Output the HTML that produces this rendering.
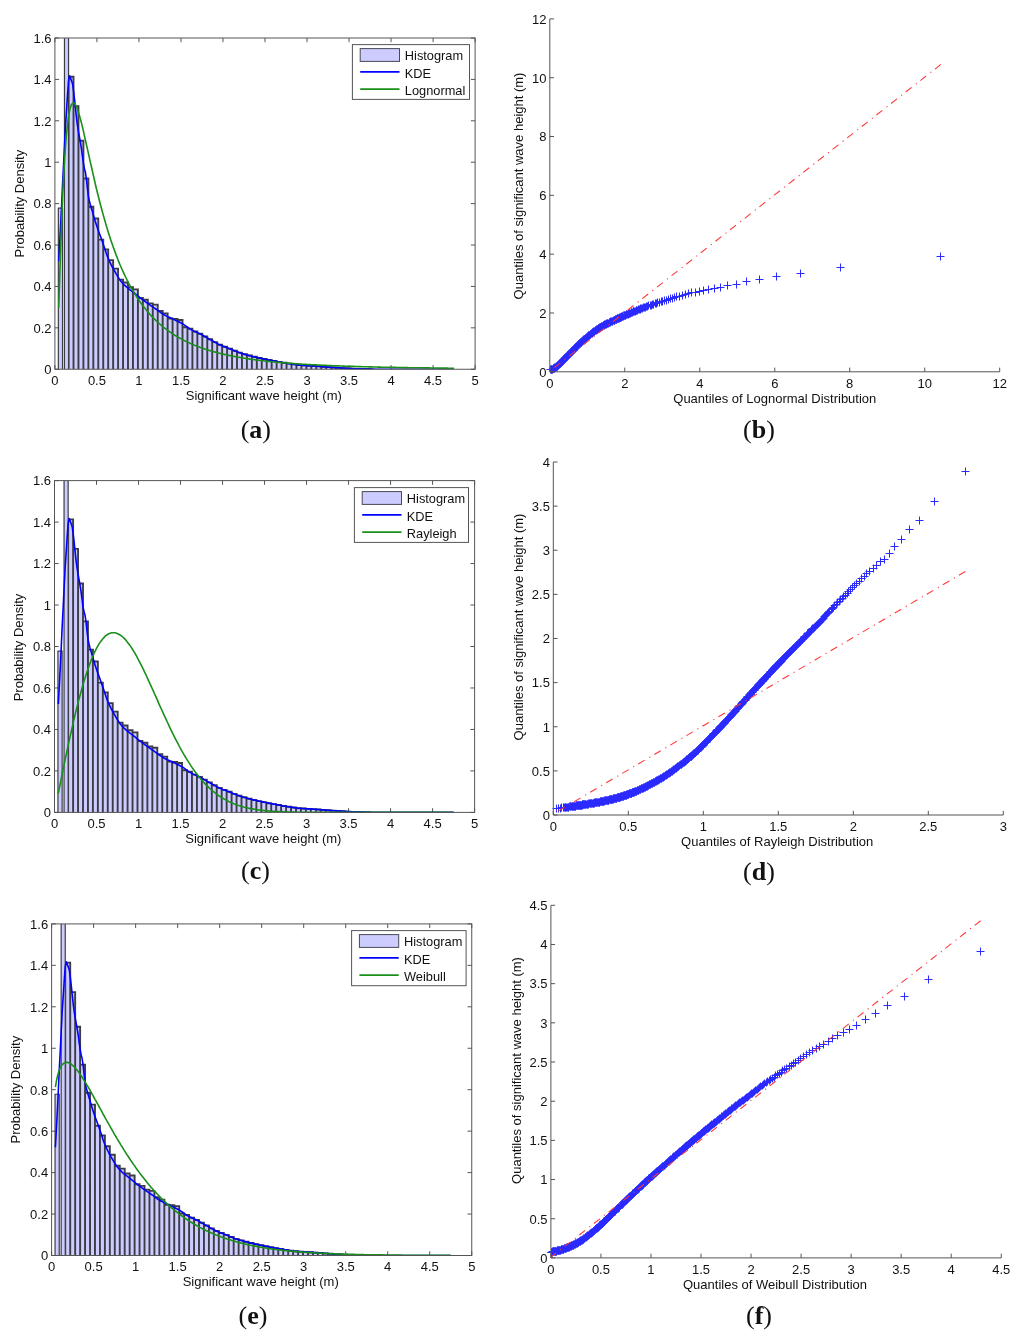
<!DOCTYPE html>
<html><head><meta charset="utf-8"><title>Figure</title>
<style>html,body{margin:0;padding:0;background:#fff;}body{width:1024px;height:1335px;overflow:hidden;}svg{display:block;}</style>
</head><body>
<svg width="1024" height="1335" viewBox="0 0 1024 1335" font-family="&apos;Liberation Sans&apos;, Arial, Helvetica, sans-serif" font-size="13" fill="#111">
<rect width="1024" height="1335" fill="#fff"/>
<path d="M54.90 369.25v-4.2M54.90 38.00v4.2M96.92 369.25v-4.2M96.92 38.00v4.2M138.94 369.25v-4.2M138.94 38.00v4.2M180.96 369.25v-4.2M180.96 38.00v4.2M222.98 369.25v-4.2M222.98 38.00v4.2M265.00 369.25v-4.2M265.00 38.00v4.2M307.02 369.25v-4.2M307.02 38.00v4.2M349.04 369.25v-4.2M349.04 38.00v4.2M391.06 369.25v-4.2M391.06 38.00v4.2M433.08 369.25v-4.2M433.08 38.00v4.2M475.10 369.25v-4.2M475.10 38.00v4.2M54.90 369.25h4.2M475.10 369.25h-4.2M54.90 327.84h4.2M475.10 327.84h-4.2M54.90 286.44h4.2M475.10 286.44h-4.2M54.90 245.03h4.2M475.10 245.03h-4.2M54.90 203.62h4.2M475.10 203.62h-4.2M54.90 162.22h4.2M475.10 162.22h-4.2M54.90 120.81h4.2M475.10 120.81h-4.2M54.90 79.41h4.2M475.10 79.41h-4.2M54.90 38.00h4.2M475.10 38.00h-4.2" stroke="#555" stroke-width="1" fill="none"/>
<clipPath id="c369"><rect x="54.90" y="38.00" width="420.20" height="331.25"/></clipPath>
<g clip-path="url(#c369)">
<path d="M68.55 369.25V76.71H73.51V369.25M73.51 369.25V106.11H78.46V369.25M78.46 369.25V140.69H83.41V369.25M83.41 369.25V178.57H88.37V369.25M88.37 369.25V206.73H93.32V369.25M93.32 369.25V218.53H98.28V369.25M98.28 369.25V239.65H103.23V369.25M103.23 369.25V249.38H108.19V369.25M108.19 369.25V260.14H113.14V369.25M113.14 369.25V268.63H118.09V369.25M118.09 369.25V279.61H123.05V369.25M123.05 369.25V282.50H128.00V369.25M128.00 369.25V287.27H132.96V369.25M132.96 369.25V289.34H137.91V369.25M137.91 369.25V298.03H142.86V369.25M142.86 369.25V299.69H147.82V369.25M147.82 369.25V303.41H152.77V369.25M152.77 369.25V304.66H157.73V369.25M157.73 369.25V311.07H162.68V369.25M162.68 369.25V313.56H167.64V369.25M167.64 369.25V318.53H172.59V369.25M172.59 369.25V318.94H177.54V369.25M177.54 369.25V319.98H182.50V369.25M182.50 369.25V327.22H187.45V369.25M187.45 369.25V328.67H192.41V369.25M192.41 369.25V331.53H197.36V369.25M197.36 369.25V333.82H202.31V369.25M202.31 369.25V336.52H207.27V369.25M207.27 369.25V339.32H212.22V369.25M212.22 369.25V342.15H217.18V369.25M217.18 369.25V344.76H222.13V369.25M222.13 369.25V346.79H227.09V369.25M227.09 369.25V348.67H232.04V369.25M232.04 369.25V350.73H236.99V369.25M236.99 369.25V352.65H241.95V369.25M241.95 369.25V354.19H246.90V369.25M246.90 369.25V355.55H251.86V369.25M251.86 369.25V356.80H256.81V369.25M256.81 369.25V357.96H261.76V369.25M261.76 369.25V359.04H266.72V369.25M266.72 369.25V360.05H271.67V369.25M271.67 369.25V361.01H276.63V369.25M276.63 369.25V361.91H281.58V369.25M281.58 369.25V362.79H286.54V369.25M286.54 369.25V363.60H291.49V369.25M291.49 369.25V364.40H296.44V369.25M296.44 369.25V365.06H301.40V369.25M301.40 369.25V365.41H306.35V369.25M306.35 369.25V365.69H311.31V369.25M311.31 369.25V366.00H316.26V369.25M316.26 369.25V366.35H321.21V369.25M321.21 369.25V366.75H326.17V369.25M326.17 369.25V367.16H331.12V369.25M331.12 369.25V367.51H336.08V369.25M336.08 369.25V367.83H341.03V369.25M341.03 369.25V368.15H345.99V369.25M345.99 369.25V368.44H350.94V369.25M350.94 369.25V368.68H355.89V369.25M355.89 369.25V368.86H360.85V369.25M360.85 369.25V368.98H365.80V369.25M365.80 369.25V369.07H370.76V369.25" fill="#ccccff" stroke="#3c3c44" stroke-width="1.9"/>
<path d="M58.35 369.25V208.18H62.53V369.25M64.46 369.25V17.30H68.55V369.25" fill="#ccccff" stroke="#3c3c44" stroke-width="1.2"/>
<polyline fill="none" stroke="#0000ff" stroke-width="1.6" stroke-linejoin="round" points="58.7,261.1 59.7,242.9 60.7,223.8 61.7,203.3 62.6,183.2 63.6,164.0 64.6,143.2 65.6,123.8 66.6,109.3 67.6,93.8 68.6,80.2 69.6,75.8 70.6,78.5 71.6,81.1 72.6,84.1 73.5,90.5 74.5,99.1 75.5,108.6 76.5,118.1 77.5,125.7 78.5,131.8 79.5,137.3 80.5,142.8 81.5,149.2 82.5,156.9 83.5,164.0 84.4,168.6 85.4,172.3 86.4,178.8 87.4,188.4 88.4,196.3 89.4,201.1 90.4,205.0 91.4,208.4 92.4,211.6 93.4,215.0 94.4,218.3 95.3,221.5 96.3,224.6 97.3,227.6 98.3,230.4 99.3,233.2 100.3,235.9 101.3,238.6 102.3,241.5 103.3,244.4 104.3,247.2 105.3,250.2 106.2,253.1 107.2,255.9 108.2,258.4 109.2,260.7 110.2,262.8 111.2,264.9 112.2,266.8 113.2,268.7 114.2,270.5 115.2,272.2 116.2,273.9 117.2,275.5 118.1,277.1 119.1,278.6 120.1,280.1 121.1,281.4 122.1,282.6 123.1,283.7 124.1,284.8 125.1,285.7 126.1,286.6 127.1,287.4 128.1,288.2 129.0,289.0 130.0,289.8 131.0,290.5 132.0,291.3 133.0,292.0 134.0,292.8 135.0,293.6 136.0,294.4 137.0,295.2 138.0,296.0 139.0,296.8 139.9,297.6 140.9,298.4 141.9,299.2 142.9,299.9 143.9,300.7 144.9,301.4 145.9,302.1 146.9,302.8 147.9,303.5 148.9,304.2 149.9,304.9 150.8,305.6 151.8,306.2 152.8,306.9 153.8,307.6 154.8,308.3 155.8,309.0 156.8,309.7 157.8,310.5 158.8,311.2 159.8,311.9 160.8,312.6 161.7,313.3 162.7,313.9 163.7,314.5 164.7,315.1 165.7,315.6 166.7,316.1 167.7,316.6 168.7,317.1 169.7,317.5 170.7,318.0 171.7,318.4 172.6,318.9 173.6,319.4 174.6,319.9 175.6,320.4 176.6,320.8 177.6,321.3 178.6,321.8 179.6,322.3 180.6,322.8 181.6,323.3 182.6,323.8 183.5,324.4 184.5,325.1 185.5,325.8 186.5,326.5 187.5,327.3 188.5,328.0 189.5,328.7 190.5,329.3 191.5,329.9 192.5,330.4 193.5,330.9 194.4,331.3 195.4,331.8 196.4,332.2 197.4,332.7 198.4,333.1 199.4,333.6 200.4,334.1 201.4,334.6 202.4,335.2 203.4,335.7 204.4,336.3 205.3,336.8 206.3,337.4 207.3,338.0 208.3,338.5 209.3,339.1 210.3,339.6 211.3,340.2 212.3,340.8 213.3,341.3 214.3,341.9 215.3,342.5 216.3,343.0 217.2,343.6 218.2,344.1 219.2,344.6 220.2,345.0 221.2,345.4 222.2,345.9 223.2,346.2 224.2,346.6 225.2,347.0 226.2,347.4 227.2,347.7 228.1,348.1 229.1,348.5 230.1,348.9 231.1,349.3 232.1,349.7 233.1,350.1 234.1,350.6 235.1,351.0 236.1,351.4 237.1,351.8 238.1,352.1 239.0,352.5 240.0,352.8 241.0,353.2 242.0,353.5 243.0,353.8 244.0,354.1 245.0,354.4 246.0,354.6 247.0,354.9 248.0,355.2 249.0,355.4 249.9,355.7 250.9,356.0 251.9,356.2 252.9,356.5 253.9,356.7 254.9,356.9 255.9,357.2 256.9,357.4 257.9,357.6 258.9,357.9 259.9,358.1 260.8,358.3 261.8,358.5 262.8,358.7 263.8,358.9 264.8,359.2 265.8,359.4 266.8,359.6 267.8,359.8 268.8,360.0 269.8,360.2 270.8,360.4 271.7,360.5 272.7,360.7 273.7,360.9 274.7,361.1 275.7,361.3 276.7,361.5 277.7,361.7 278.7,361.8 279.7,362.0 280.7,362.2 281.7,362.4 282.6,362.5 283.6,362.7 284.6,362.9 285.6,363.1 286.6,363.2 287.6,363.4 288.6,363.5 289.6,363.7 290.6,363.9 291.6,364.0 292.6,364.2 293.5,364.3 294.5,364.5 295.5,364.6 296.5,364.8 297.5,364.9 298.5,365.0 299.5,365.1 300.5,365.2 301.5,365.3 302.5,365.3 303.5,365.4 304.4,365.4 305.4,365.5 306.4,365.6 307.4,365.6 308.4,365.7 309.4,365.7 310.4,365.8 311.4,365.8 312.4,365.9 313.4,366.0 314.4,366.0 315.4,366.1 316.3,366.2 317.3,366.2 318.3,366.3 319.3,366.4 320.3,366.5 321.3,366.5 322.3,366.6 323.3,366.7 324.3,366.8 325.3,366.9 326.3,367.0 327.2,367.1 328.2,367.1 329.2,367.2 330.2,367.3 331.2,367.3 332.2,367.4 333.2,367.5 334.2,367.5 335.2,367.6 336.2,367.7 337.2,367.7 338.1,367.8 339.1,367.9 340.1,367.9 341.1,368.0 342.1,368.1 343.1,368.1 344.1,368.2 345.1,368.2 346.1,368.3 347.1,368.4 348.1,368.4 349.0,368.5 350.0,368.5 351.0,368.6 352.0,368.6 353.0,368.7 354.0,368.7 355.0,368.8 356.0,368.8 357.0,368.8 358.0,368.8 359.0,368.9 359.9,368.9 360.9,368.9 361.9,368.9 362.9,369.0 363.9,369.0 364.9,369.0 365.9,369.0 366.9,369.0 367.9,369.1 368.9,369.1 369.9,369.1 370.8,369.1 371.8,369.1 372.8,369.1 373.8,369.1 374.8,369.2 375.8,369.2 376.8,369.2 377.8,369.2 378.8,369.2 379.8,369.2 380.8,369.2 381.7,369.2 382.7,369.2 383.7,369.2 384.7,369.2 385.7,369.2 386.7,369.2 387.7,369.2 388.7,369.2 389.7,369.2 390.7,369.2 391.7,369.2 392.6,369.2 393.6,369.2 394.6,369.2 395.6,369.2 396.6,369.2 397.6,369.2 398.6,369.2 399.6,369.2 400.6,369.2 401.6,369.2 402.6,369.2 403.5,369.2 404.5,369.2 405.5,369.2 406.5,369.2 407.5,369.2 408.5,369.2 409.5,369.2 410.5,369.2 411.5,369.2 412.5,369.2 413.5,369.2 414.5,369.2 415.4,369.2 416.4,369.2 417.4,369.2 418.4,369.2 419.4,369.2 420.4,369.2 421.4,369.2 422.4,369.2 423.4,369.2 424.4,369.2 425.4,369.2 426.3,369.2 427.3,369.2 428.3,369.2 429.3,369.2 430.3,369.2 431.3,369.2 432.3,369.2 433.3,369.2 434.3,369.2 435.3,369.2 436.3,369.2 437.2,369.2 438.2,369.2 439.2,369.2 440.2,369.2 441.2,369.2 442.2,369.2 443.2,369.2 444.2,369.2 445.2,369.2 446.2,369.2 447.2,369.2 448.1,369.2 449.1,369.2 450.1,369.2 451.1,369.2 452.1,369.2 453.1,369.2 454.1,369.2"/>
<polyline fill="none" stroke="#1a8f1a" stroke-width="1.6" stroke-linejoin="round" points="58.7,307.8 59.7,277.6 60.7,248.3 61.7,221.3 62.6,197.5 63.6,176.8 64.6,159.3 65.6,144.8 66.6,132.9 67.6,123.5 68.6,116.2 69.6,110.7 70.6,106.9 71.6,104.4 72.6,103.2 73.5,102.9 74.5,103.5 75.5,104.9 76.5,106.9 77.5,109.4 78.5,112.4 79.5,115.7 80.5,119.3 81.5,123.1 82.5,127.2 83.5,131.4 84.4,135.7 85.4,140.0 86.4,144.5 87.4,148.9 88.4,153.4 89.4,157.9 90.4,162.4 91.4,166.8 92.4,171.2 93.4,175.5 94.4,179.8 95.3,184.0 96.3,188.2 97.3,192.2 98.3,196.2 99.3,200.2 100.3,204.0 101.3,207.8 102.3,211.5 103.3,215.1 104.3,218.7 105.3,222.1 106.2,225.5 107.2,228.8 108.2,232.0 109.2,235.1 110.2,238.2 111.2,241.2 112.2,244.1 113.2,246.9 114.2,249.7 115.2,252.4 116.2,255.1 117.2,257.6 118.1,260.1 119.1,262.6 120.1,265.0 121.1,267.3 122.1,269.5 123.1,271.7 124.1,273.9 125.1,276.0 126.1,278.0 127.1,280.0 128.1,281.9 129.0,283.8 130.0,285.7 131.0,287.5 132.0,289.2 133.0,290.9 134.0,292.6 135.0,294.2 136.0,295.8 137.0,297.3 138.0,298.8 139.0,300.3 139.9,301.7 140.9,303.1 141.9,304.5 142.9,305.8 143.9,307.1 144.9,308.3 145.9,309.6 146.9,310.8 147.9,311.9 148.9,313.1 149.9,314.2 150.8,315.3 151.8,316.4 152.8,317.4 153.8,318.4 154.8,319.4 155.8,320.4 156.8,321.3 157.8,322.2 158.8,323.2 159.8,324.0 160.8,324.9 161.7,325.7 162.7,326.6 163.7,327.4 164.7,328.1 165.7,328.9 166.7,329.7 167.7,330.4 168.7,331.1 169.7,331.8 170.7,332.5 171.7,333.2 172.6,333.8 173.6,334.5 174.6,335.1 175.6,335.7 176.6,336.3 177.6,336.9 178.6,337.5 179.6,338.0 180.6,338.6 181.6,339.1 182.6,339.6 183.5,340.2 184.5,340.7 185.5,341.2 186.5,341.6 187.5,342.1 188.5,342.6 189.5,343.0 190.5,343.5 191.5,343.9 192.5,344.3 193.5,344.8 194.4,345.2 195.4,345.6 196.4,346.0 197.4,346.4 198.4,346.7 199.4,347.1 200.4,347.5 201.4,347.8 202.4,348.2 203.4,348.5 204.4,348.8 205.3,349.2 206.3,349.5 207.3,349.8 208.3,350.1 209.3,350.4 210.3,350.7 211.3,351.0 212.3,351.3 213.3,351.6 214.3,351.9 215.3,352.1 216.3,352.4 217.2,352.7 218.2,352.9 219.2,353.2 220.2,353.4 221.2,353.7 222.2,353.9 223.2,354.1 224.2,354.4 225.2,354.6 226.2,354.8 227.2,355.0 228.1,355.2 229.1,355.4 230.1,355.6 231.1,355.8 232.1,356.0 233.1,356.2 234.1,356.4 235.1,356.6 236.1,356.8 237.1,357.0 238.1,357.2 239.0,357.3 240.0,357.5 241.0,357.7 242.0,357.8 243.0,358.0 244.0,358.2 245.0,358.3 246.0,358.5 247.0,358.6 248.0,358.8 249.0,358.9 249.9,359.1 250.9,359.2 251.9,359.3 252.9,359.5 253.9,359.6 254.9,359.7 255.9,359.9 256.9,360.0 257.9,360.1 258.9,360.3 259.9,360.4 260.8,360.5 261.8,360.6 262.8,360.7 263.8,360.8 264.8,361.0 265.8,361.1 266.8,361.2 267.8,361.3 268.8,361.4 269.8,361.5 270.8,361.6 271.7,361.7 272.7,361.8 273.7,361.9 274.7,362.0 275.7,362.1 276.7,362.2 277.7,362.3 278.7,362.4 279.7,362.4 280.7,362.5 281.7,362.6 282.6,362.7 283.6,362.8 284.6,362.9 285.6,363.0 286.6,363.0 287.6,363.1 288.6,363.2 289.6,363.3 290.6,363.3 291.6,363.4 292.6,363.5 293.5,363.6 294.5,363.6 295.5,363.7 296.5,363.8 297.5,363.8 298.5,363.9 299.5,364.0 300.5,364.0 301.5,364.1 302.5,364.2 303.5,364.2 304.4,364.3 305.4,364.3 306.4,364.4 307.4,364.5 308.4,364.5 309.4,364.6 310.4,364.6 311.4,364.7 312.4,364.7 313.4,364.8 314.4,364.8 315.4,364.9 316.3,364.9 317.3,365.0 318.3,365.0 319.3,365.1 320.3,365.1 321.3,365.2 322.3,365.2 323.3,365.3 324.3,365.3 325.3,365.4 326.3,365.4 327.2,365.5 328.2,365.5 329.2,365.5 330.2,365.6 331.2,365.6 332.2,365.7 333.2,365.7 334.2,365.7 335.2,365.8 336.2,365.8 337.2,365.9 338.1,365.9 339.1,365.9 340.1,366.0 341.1,366.0 342.1,366.0 343.1,366.1 344.1,366.1 345.1,366.2 346.1,366.2 347.1,366.2 348.1,366.3 349.0,366.3 350.0,366.3 351.0,366.4 352.0,366.4 353.0,366.4 354.0,366.4 355.0,366.5 356.0,366.5 357.0,366.5 358.0,366.6 359.0,366.6 359.9,366.6 360.9,366.6 361.9,366.7 362.9,366.7 363.9,366.7 364.9,366.8 365.9,366.8 366.9,366.8 367.9,366.8 368.9,366.9 369.9,366.9 370.8,366.9 371.8,366.9 372.8,367.0 373.8,367.0 374.8,367.0 375.8,367.0 376.8,367.0 377.8,367.1 378.8,367.1 379.8,367.1 380.8,367.1 381.7,367.2 382.7,367.2 383.7,367.2 384.7,367.2 385.7,367.2 386.7,367.3 387.7,367.3 388.7,367.3 389.7,367.3 390.7,367.3 391.7,367.4 392.6,367.4 393.6,367.4 394.6,367.4 395.6,367.4 396.6,367.5 397.6,367.5 398.6,367.5 399.6,367.5 400.6,367.5 401.6,367.5 402.6,367.6 403.5,367.6 404.5,367.6 405.5,367.6 406.5,367.6 407.5,367.6 408.5,367.7 409.5,367.7 410.5,367.7 411.5,367.7 412.5,367.7 413.5,367.7 414.5,367.7 415.4,367.8 416.4,367.8 417.4,367.8 418.4,367.8 419.4,367.8 420.4,367.8 421.4,367.8 422.4,367.9 423.4,367.9 424.4,367.9 425.4,367.9 426.3,367.9 427.3,367.9 428.3,367.9 429.3,367.9 430.3,368.0 431.3,368.0 432.3,368.0 433.3,368.0 434.3,368.0 435.3,368.0 436.3,368.0 437.2,368.0 438.2,368.0 439.2,368.1 440.2,368.1 441.2,368.1 442.2,368.1 443.2,368.1 444.2,368.1 445.2,368.1 446.2,368.1 447.2,368.1 448.1,368.2 449.1,368.2 450.1,368.2 451.1,368.2 452.1,368.2 453.1,368.2 454.1,368.2"/>
</g>
<rect x="54.90" y="38.00" width="420.20" height="331.25" fill="none" stroke="#555" stroke-width="1"/>
<text x="54.90" y="385.15" text-anchor="middle">0</text>
<text x="96.92" y="385.15" text-anchor="middle">0.5</text>
<text x="138.94" y="385.15" text-anchor="middle">1</text>
<text x="180.96" y="385.15" text-anchor="middle">1.5</text>
<text x="222.98" y="385.15" text-anchor="middle">2</text>
<text x="265.00" y="385.15" text-anchor="middle">2.5</text>
<text x="307.02" y="385.15" text-anchor="middle">3</text>
<text x="349.04" y="385.15" text-anchor="middle">3.5</text>
<text x="391.06" y="385.15" text-anchor="middle">4</text>
<text x="433.08" y="385.15" text-anchor="middle">4.5</text>
<text x="475.10" y="385.15" text-anchor="middle">5</text>
<text x="51.50" y="374.05" text-anchor="end">0</text>
<text x="51.50" y="332.64" text-anchor="end">0.2</text>
<text x="51.50" y="291.24" text-anchor="end">0.4</text>
<text x="51.50" y="249.83" text-anchor="end">0.6</text>
<text x="51.50" y="208.43" text-anchor="end">0.8</text>
<text x="51.50" y="167.02" text-anchor="end">1</text>
<text x="51.50" y="125.61" text-anchor="end">1.2</text>
<text x="51.50" y="84.21" text-anchor="end">1.4</text>
<text x="51.50" y="42.80" text-anchor="end">1.6</text>
<text x="263.80" y="399.90" text-anchor="middle">Significant wave height (m)</text>
<text transform="translate(23.50 203.62) rotate(-90)" text-anchor="middle">Probability Density</text>
<rect x="352.40" y="44.60" width="117.10" height="54.80" fill="#fff" stroke="#555" stroke-width="1"/>
<rect x="360.20" y="48.60" width="39.3" height="12.8" fill="#ccccff" stroke="#4a4a55" stroke-width="1"/>
<path d="M360.20 71.80h39.3" stroke="#0000ff" stroke-width="1.7"/>
<path d="M360.20 89.10h39.3" stroke="#1a8f1a" stroke-width="1.7"/>
<text x="404.80" y="60.20" font-size="12.8">Histogram</text>
<text x="404.80" y="77.50" font-size="12.8">KDE</text>
<text x="404.80" y="94.80" font-size="12.8">Lognormal</text>
<path d="M54.50 812.40v-4.2M54.50 480.60v4.2M96.51 812.40v-4.2M96.51 480.60v4.2M138.52 812.40v-4.2M138.52 480.60v4.2M180.53 812.40v-4.2M180.53 480.60v4.2M222.54 812.40v-4.2M222.54 480.60v4.2M264.55 812.40v-4.2M264.55 480.60v4.2M306.56 812.40v-4.2M306.56 480.60v4.2M348.57 812.40v-4.2M348.57 480.60v4.2M390.58 812.40v-4.2M390.58 480.60v4.2M432.59 812.40v-4.2M432.59 480.60v4.2M474.60 812.40v-4.2M474.60 480.60v4.2M54.50 812.40h4.2M474.60 812.40h-4.2M54.50 770.92h4.2M474.60 770.92h-4.2M54.50 729.45h4.2M474.60 729.45h-4.2M54.50 687.98h4.2M474.60 687.98h-4.2M54.50 646.50h4.2M474.60 646.50h-4.2M54.50 605.02h4.2M474.60 605.02h-4.2M54.50 563.55h4.2M474.60 563.55h-4.2M54.50 522.08h4.2M474.60 522.08h-4.2M54.50 480.60h4.2M474.60 480.60h-4.2" stroke="#555" stroke-width="1" fill="none"/>
<clipPath id="c812"><rect x="54.50" y="480.60" width="420.10" height="331.80"/></clipPath>
<g clip-path="url(#c812)">
<path d="M68.15 812.40V519.38H73.10V812.40M73.10 812.40V548.83H78.06V812.40M78.06 812.40V583.46H83.01V812.40M83.01 812.40V621.41H87.96V812.40M87.96 812.40V649.61H92.91V812.40M92.91 812.40V661.43H97.87V812.40M97.87 812.40V682.58H102.82V812.40M102.82 812.40V692.33H107.77V812.40M107.77 812.40V703.11H112.73V812.40M112.73 812.40V711.62H117.68V812.40M117.68 812.40V722.61H122.63V812.40M122.63 812.40V725.51H127.58V812.40M127.58 812.40V730.28H132.54V812.40M132.54 812.40V732.35H137.49V812.40M137.49 812.40V741.06H142.44V812.40M142.44 812.40V742.72H147.40V812.40M147.40 812.40V746.45H152.35V812.40M152.35 812.40V747.70H157.30V812.40M157.30 812.40V754.13H162.26V812.40M162.26 812.40V756.62H167.21V812.40M167.21 812.40V761.59H172.16V812.40M172.16 812.40V762.01H177.11V812.40M177.11 812.40V763.04H182.07V812.40M182.07 812.40V770.30H187.02V812.40M187.02 812.40V771.75H191.97V812.40M191.97 812.40V774.61H196.93V812.40M196.93 812.40V776.92H201.88V812.40M201.88 812.40V779.61H206.83V812.40M206.83 812.40V782.42H211.79V812.40M211.79 812.40V785.25H216.74V812.40M216.74 812.40V787.87H221.69V812.40M221.69 812.40V789.91H226.64V812.40M226.64 812.40V791.79H231.60V812.40M231.60 812.40V793.85H236.55V812.40M236.55 812.40V795.77H241.50V812.40M241.50 812.40V797.31H246.46V812.40M246.46 812.40V798.68H251.41V812.40M251.41 812.40V799.93H256.36V812.40M256.36 812.40V801.09H261.32V812.40M261.32 812.40V802.17H266.27V812.40M266.27 812.40V803.18H271.22V812.40M271.22 812.40V804.14H276.17V812.40M276.17 812.40V805.05H281.13V812.40M281.13 812.40V805.93H286.08V812.40M286.08 812.40V806.74H291.03V812.40M291.03 812.40V807.54H295.99V812.40M295.99 812.40V808.20H300.94V812.40M300.94 812.40V808.56H305.89V812.40M305.89 812.40V808.83H310.85V812.40M310.85 812.40V809.15H315.80V812.40M315.80 812.40V809.49H320.75V812.40M320.75 812.40V809.90H325.70V812.40M325.70 812.40V810.31H330.66V812.40M330.66 812.40V810.66H335.61V812.40M335.61 812.40V810.98H340.56V812.40M340.56 812.40V811.30H345.52V812.40M345.52 812.40V811.58H350.47V812.40M350.47 812.40V811.83H355.42V812.40M355.42 812.40V812.01H360.37V812.40M360.37 812.40V812.13H365.33V812.40M365.33 812.40V812.22H370.28V812.40" fill="#ccccff" stroke="#3c3c44" stroke-width="1.9"/>
<path d="M57.94 812.40V651.06H62.13V812.40M64.06 812.40V459.86H68.15V812.40" fill="#ccccff" stroke="#3c3c44" stroke-width="1.2"/>
<polyline fill="none" stroke="#0000ff" stroke-width="1.6" stroke-linejoin="round" points="58.3,704.1 59.3,685.9 60.3,666.7 61.3,646.2 62.2,626.1 63.2,606.8 64.2,586.0 65.2,566.5 66.2,552.0 67.2,536.5 68.2,522.8 69.2,518.5 70.2,521.2 71.2,523.8 72.2,526.8 73.1,533.1 74.1,541.8 75.1,551.3 76.1,560.8 77.1,568.4 78.1,574.5 79.1,580.0 80.1,585.6 81.1,592.0 82.1,599.7 83.0,606.8 84.0,611.4 85.0,615.1 86.0,621.7 87.0,631.2 88.0,639.1 89.0,644.0 90.0,647.9 91.0,651.3 92.0,654.5 93.0,657.9 93.9,661.2 94.9,664.4 95.9,667.5 96.9,670.5 97.9,673.4 98.9,676.1 99.9,678.8 100.9,681.6 101.9,684.4 102.9,687.3 103.9,690.2 104.8,693.1 105.8,696.1 106.8,698.9 107.8,701.4 108.8,703.6 109.8,705.8 110.8,707.9 111.8,709.8 112.8,711.7 113.8,713.5 114.8,715.2 115.7,716.9 116.7,718.5 117.7,720.1 118.7,721.6 119.7,723.1 120.7,724.4 121.7,725.6 122.7,726.7 123.7,727.8 124.7,728.7 125.7,729.6 126.6,730.5 127.6,731.3 128.6,732.0 129.6,732.8 130.6,733.5 131.6,734.3 132.6,735.1 133.6,735.8 134.6,736.6 135.6,737.4 136.6,738.3 137.5,739.1 138.5,739.9 139.5,740.7 140.5,741.4 141.5,742.2 142.5,743.0 143.5,743.7 144.5,744.5 145.5,745.2 146.5,745.9 147.4,746.6 148.4,747.2 149.4,747.9 150.4,748.6 151.4,749.3 152.4,749.9 153.4,750.6 154.4,751.3 155.4,752.1 156.4,752.8 157.4,753.5 158.3,754.3 159.3,755.0 160.3,755.7 161.3,756.4 162.3,757.0 163.3,757.6 164.3,758.2 165.3,758.7 166.3,759.2 167.3,759.7 168.3,760.1 169.2,760.6 170.2,761.0 171.2,761.5 172.2,762.0 173.2,762.5 174.2,762.9 175.2,763.4 176.2,763.9 177.2,764.4 178.2,764.8 179.2,765.3 180.1,765.8 181.1,766.4 182.1,766.9 183.1,767.5 184.1,768.1 185.1,768.8 186.1,769.6 187.1,770.3 188.1,771.1 189.1,771.8 190.1,772.4 191.0,772.9 192.0,773.5 193.0,773.9 194.0,774.4 195.0,774.9 196.0,775.3 197.0,775.8 198.0,776.2 199.0,776.7 200.0,777.2 201.0,777.7 201.9,778.3 202.9,778.8 203.9,779.4 204.9,779.9 205.9,780.5 206.9,781.1 207.9,781.6 208.9,782.2 209.9,782.7 210.9,783.3 211.8,783.9 212.8,784.4 213.8,785.0 214.8,785.6 215.8,786.1 216.8,786.7 217.8,787.2 218.8,787.7 219.8,788.1 220.8,788.6 221.8,789.0 222.7,789.4 223.7,789.7 224.7,790.1 225.7,790.5 226.7,790.9 227.7,791.2 228.7,791.6 229.7,792.0 230.7,792.4 231.7,792.8 232.7,793.3 233.6,793.7 234.6,794.1 235.6,794.5 236.6,794.9 237.6,795.3 238.6,795.6 239.6,796.0 240.6,796.3 241.6,796.6 242.6,796.9 243.6,797.2 244.5,797.5 245.5,797.8 246.5,798.0 247.5,798.3 248.5,798.6 249.5,798.8 250.5,799.1 251.5,799.3 252.5,799.6 253.5,799.8 254.5,800.1 255.4,800.3 256.4,800.5 257.4,800.8 258.4,801.0 259.4,801.2 260.4,801.4 261.4,801.7 262.4,801.9 263.4,802.1 264.4,802.3 265.4,802.5 266.3,802.7 267.3,802.9 268.3,803.1 269.3,803.3 270.3,803.5 271.3,803.7 272.3,803.9 273.3,804.1 274.3,804.3 275.3,804.4 276.2,804.6 277.2,804.8 278.2,805.0 279.2,805.2 280.2,805.3 281.2,805.5 282.2,805.7 283.2,805.9 284.2,806.0 285.2,806.2 286.2,806.4 287.1,806.5 288.1,806.7 289.1,806.8 290.1,807.0 291.1,807.2 292.1,807.3 293.1,807.5 294.1,807.6 295.1,807.8 296.1,807.9 297.1,808.0 298.0,808.2 299.0,808.3 300.0,808.3 301.0,808.4 302.0,808.5 303.0,808.5 304.0,808.6 305.0,808.6 306.0,808.7 307.0,808.7 308.0,808.8 308.9,808.9 309.9,808.9 310.9,809.0 311.9,809.1 312.9,809.1 313.9,809.2 314.9,809.3 315.9,809.3 316.9,809.4 317.9,809.5 318.9,809.5 319.8,809.6 320.8,809.7 321.8,809.8 322.8,809.9 323.8,809.9 324.8,810.0 325.8,810.1 326.8,810.2 327.8,810.3 328.8,810.4 329.7,810.4 330.7,810.5 331.7,810.6 332.7,810.6 333.7,810.7 334.7,810.8 335.7,810.8 336.7,810.9 337.7,811.0 338.7,811.0 339.7,811.1 340.6,811.1 341.6,811.2 342.6,811.3 343.6,811.3 344.6,811.4 345.6,811.5 346.6,811.5 347.6,811.6 348.6,811.6 349.6,811.7 350.6,811.7 351.5,811.8 352.5,811.8 353.5,811.9 354.5,811.9 355.5,811.9 356.5,812.0 357.5,812.0 358.5,812.0 359.5,812.1 360.5,812.1 361.5,812.1 362.4,812.1 363.4,812.1 364.4,812.2 365.4,812.2 366.4,812.2 367.4,812.2 368.4,812.2 369.4,812.2 370.4,812.3 371.4,812.3 372.4,812.3 373.3,812.3 374.3,812.3 375.3,812.3 376.3,812.3 377.3,812.3 378.3,812.3 379.3,812.3 380.3,812.4 381.3,812.4 382.3,812.4 383.3,812.4 384.2,812.4 385.2,812.4 386.2,812.4 387.2,812.4 388.2,812.4 389.2,812.4 390.2,812.4 391.2,812.4 392.2,812.4 393.2,812.4 394.1,812.4 395.1,812.4 396.1,812.4 397.1,812.4 398.1,812.4 399.1,812.4 400.1,812.4 401.1,812.4 402.1,812.4 403.1,812.4 404.1,812.4 405.0,812.4 406.0,812.4 407.0,812.4 408.0,812.4 409.0,812.4 410.0,812.4 411.0,812.4 412.0,812.4 413.0,812.4 414.0,812.4 415.0,812.4 415.9,812.4 416.9,812.4 417.9,812.4 418.9,812.4 419.9,812.4 420.9,812.4 421.9,812.4 422.9,812.4 423.9,812.4 424.9,812.4 425.9,812.4 426.8,812.4 427.8,812.4 428.8,812.4 429.8,812.4 430.8,812.4 431.8,812.4 432.8,812.4 433.8,812.4 434.8,812.4 435.8,812.4 436.8,812.4 437.7,812.4 438.7,812.4 439.7,812.4 440.7,812.4 441.7,812.4 442.7,812.4 443.7,812.4 444.7,812.4 445.7,812.4 446.7,812.4 447.7,812.4 448.6,812.4 449.6,812.4 450.6,812.4 451.6,812.4 452.6,812.4 453.6,812.4"/>
<polyline fill="none" stroke="#1a8f1a" stroke-width="1.6" stroke-linejoin="round" points="58.3,793.4 59.3,788.4 60.3,783.5 61.3,778.6 62.2,773.7 63.2,768.9 64.2,764.1 65.2,759.3 66.2,754.6 67.2,749.9 68.2,745.3 69.2,740.7 70.2,736.2 71.2,731.8 72.2,727.4 73.1,723.1 74.1,718.9 75.1,714.7 76.1,710.6 77.1,706.6 78.1,702.7 79.1,698.9 80.1,695.2 81.1,691.6 82.1,688.0 83.0,684.6 84.0,681.2 85.0,678.0 86.0,674.9 87.0,671.8 88.0,668.9 89.0,666.1 90.0,663.4 91.0,660.8 92.0,658.3 93.0,656.0 93.9,653.7 94.9,651.6 95.9,649.6 96.9,647.7 97.9,645.9 98.9,644.2 99.9,642.6 100.9,641.2 101.9,639.9 102.9,638.7 103.9,637.6 104.8,636.6 105.8,635.7 106.8,635.0 107.8,634.3 108.8,633.8 109.8,633.4 110.8,633.1 111.8,632.8 112.8,632.7 113.8,632.7 114.8,632.8 115.7,633.0 116.7,633.3 117.7,633.7 118.7,634.2 119.7,634.8 120.7,635.4 121.7,636.2 122.7,637.0 123.7,637.9 124.7,638.9 125.7,640.0 126.6,641.1 127.6,642.4 128.6,643.7 129.6,645.0 130.6,646.4 131.6,647.9 132.6,649.5 133.6,651.1 134.6,652.7 135.6,654.5 136.6,656.2 137.5,658.0 138.5,659.9 139.5,661.8 140.5,663.7 141.5,665.7 142.5,667.7 143.5,669.7 144.5,671.8 145.5,673.9 146.5,676.0 147.4,678.1 148.4,680.3 149.4,682.4 150.4,684.6 151.4,686.8 152.4,689.0 153.4,691.2 154.4,693.5 155.4,695.7 156.4,697.9 157.4,700.1 158.3,702.4 159.3,704.6 160.3,706.8 161.3,709.0 162.3,711.2 163.3,713.4 164.3,715.6 165.3,717.7 166.3,719.9 167.3,722.0 168.3,724.1 169.2,726.2 170.2,728.3 171.2,730.4 172.2,732.4 173.2,734.4 174.2,736.4 175.2,738.4 176.2,740.3 177.2,742.2 178.2,744.1 179.2,746.0 180.1,747.8 181.1,749.6 182.1,751.4 183.1,753.1 184.1,754.8 185.1,756.5 186.1,758.2 187.1,759.8 188.1,761.4 189.1,762.9 190.1,764.4 191.0,765.9 192.0,767.4 193.0,768.8 194.0,770.2 195.0,771.6 196.0,772.9 197.0,774.3 198.0,775.5 199.0,776.8 200.0,778.0 201.0,779.2 201.9,780.3 202.9,781.5 203.9,782.5 204.9,783.6 205.9,784.6 206.9,785.7 207.9,786.6 208.9,787.6 209.9,788.5 210.9,789.4 211.8,790.3 212.8,791.1 213.8,791.9 214.8,792.7 215.8,793.5 216.8,794.3 217.8,795.0 218.8,795.7 219.8,796.3 220.8,797.0 221.8,797.6 222.7,798.2 223.7,798.8 224.7,799.4 225.7,799.9 226.7,800.5 227.7,801.0 228.7,801.5 229.7,801.9 230.7,802.4 231.7,802.8 232.7,803.3 233.6,803.7 234.6,804.1 235.6,804.4 236.6,804.8 237.6,805.2 238.6,805.5 239.6,805.8 240.6,806.1 241.6,806.4 242.6,806.7 243.6,807.0 244.5,807.2 245.5,807.5 246.5,807.7 247.5,807.9 248.5,808.2 249.5,808.4 250.5,808.6 251.5,808.8 252.5,808.9 253.5,809.1 254.5,809.3 255.4,809.4 256.4,809.6 257.4,809.7 258.4,809.9 259.4,810.0 260.4,810.1 261.4,810.3 262.4,810.4 263.4,810.5 264.4,810.6 265.4,810.7 266.3,810.8 267.3,810.9 268.3,810.9 269.3,811.0 270.3,811.1 271.3,811.2 272.3,811.2 273.3,811.3 274.3,811.4 275.3,811.4 276.2,811.5 277.2,811.5 278.2,811.6 279.2,811.6 280.2,811.7 281.2,811.7 282.2,811.8 283.2,811.8 284.2,811.8 285.2,811.9 286.2,811.9 287.1,811.9 288.1,812.0 289.1,812.0 290.1,812.0 291.1,812.0 292.1,812.1 293.1,812.1 294.1,812.1 295.1,812.1 296.1,812.1 297.1,812.2 298.0,812.2 299.0,812.2 300.0,812.2 301.0,812.2 302.0,812.2 303.0,812.2 304.0,812.2 305.0,812.3 306.0,812.3 307.0,812.3 308.0,812.3 308.9,812.3 309.9,812.3 310.9,812.3 311.9,812.3 312.9,812.3 313.9,812.3 314.9,812.3 315.9,812.3 316.9,812.3 317.9,812.3 318.9,812.3 319.8,812.3 320.8,812.4 321.8,812.4 322.8,812.4 323.8,812.4 324.8,812.4 325.8,812.4 326.8,812.4 327.8,812.4 328.8,812.4 329.7,812.4 330.7,812.4 331.7,812.4 332.7,812.4 333.7,812.4 334.7,812.4 335.7,812.4 336.7,812.4 337.7,812.4 338.7,812.4 339.7,812.4 340.6,812.4 341.6,812.4 342.6,812.4 343.6,812.4 344.6,812.4 345.6,812.4 346.6,812.4 347.6,812.4 348.6,812.4 349.6,812.4 350.6,812.4 351.5,812.4 352.5,812.4 353.5,812.4 354.5,812.4 355.5,812.4 356.5,812.4 357.5,812.4 358.5,812.4 359.5,812.4 360.5,812.4 361.5,812.4 362.4,812.4 363.4,812.4 364.4,812.4 365.4,812.4 366.4,812.4 367.4,812.4 368.4,812.4 369.4,812.4 370.4,812.4 371.4,812.4 372.4,812.4 373.3,812.4 374.3,812.4 375.3,812.4 376.3,812.4 377.3,812.4 378.3,812.4 379.3,812.4 380.3,812.4 381.3,812.4 382.3,812.4 383.3,812.4 384.2,812.4 385.2,812.4 386.2,812.4 387.2,812.4 388.2,812.4 389.2,812.4 390.2,812.4 391.2,812.4 392.2,812.4 393.2,812.4 394.1,812.4 395.1,812.4 396.1,812.4 397.1,812.4 398.1,812.4 399.1,812.4 400.1,812.4 401.1,812.4 402.1,812.4 403.1,812.4 404.1,812.4 405.0,812.4 406.0,812.4 407.0,812.4 408.0,812.4 409.0,812.4 410.0,812.4 411.0,812.4 412.0,812.4 413.0,812.4 414.0,812.4 415.0,812.4 415.9,812.4 416.9,812.4 417.9,812.4 418.9,812.4 419.9,812.4 420.9,812.4 421.9,812.4 422.9,812.4 423.9,812.4 424.9,812.4 425.9,812.4 426.8,812.4 427.8,812.4 428.8,812.4 429.8,812.4 430.8,812.4 431.8,812.4 432.8,812.4 433.8,812.4 434.8,812.4 435.8,812.4 436.8,812.4 437.7,812.4 438.7,812.4 439.7,812.4 440.7,812.4 441.7,812.4 442.7,812.4 443.7,812.4 444.7,812.4 445.7,812.4 446.7,812.4 447.7,812.4 448.6,812.4 449.6,812.4 450.6,812.4 451.6,812.4 452.6,812.4 453.6,812.4"/>
</g>
<rect x="54.50" y="480.60" width="420.10" height="331.80" fill="none" stroke="#555" stroke-width="1"/>
<text x="54.50" y="828.30" text-anchor="middle">0</text>
<text x="96.51" y="828.30" text-anchor="middle">0.5</text>
<text x="138.52" y="828.30" text-anchor="middle">1</text>
<text x="180.53" y="828.30" text-anchor="middle">1.5</text>
<text x="222.54" y="828.30" text-anchor="middle">2</text>
<text x="264.55" y="828.30" text-anchor="middle">2.5</text>
<text x="306.56" y="828.30" text-anchor="middle">3</text>
<text x="348.57" y="828.30" text-anchor="middle">3.5</text>
<text x="390.58" y="828.30" text-anchor="middle">4</text>
<text x="432.59" y="828.30" text-anchor="middle">4.5</text>
<text x="474.60" y="828.30" text-anchor="middle">5</text>
<text x="51.10" y="817.20" text-anchor="end">0</text>
<text x="51.10" y="775.72" text-anchor="end">0.2</text>
<text x="51.10" y="734.25" text-anchor="end">0.4</text>
<text x="51.10" y="692.77" text-anchor="end">0.6</text>
<text x="51.10" y="651.30" text-anchor="end">0.8</text>
<text x="51.10" y="609.82" text-anchor="end">1</text>
<text x="51.10" y="568.35" text-anchor="end">1.2</text>
<text x="51.10" y="526.88" text-anchor="end">1.4</text>
<text x="51.10" y="485.40" text-anchor="end">1.6</text>
<text x="263.35" y="843.40" text-anchor="middle">Significant wave height (m)</text>
<text transform="translate(23.10 647.50) rotate(-90)" text-anchor="middle">Probability Density</text>
<rect x="354.40" y="487.60" width="114.10" height="54.80" fill="#fff" stroke="#555" stroke-width="1"/>
<rect x="362.20" y="491.60" width="39.3" height="12.8" fill="#ccccff" stroke="#4a4a55" stroke-width="1"/>
<path d="M362.20 514.80h39.3" stroke="#0000ff" stroke-width="1.7"/>
<path d="M362.20 532.10h39.3" stroke="#1a8f1a" stroke-width="1.7"/>
<text x="406.80" y="503.20" font-size="12.8">Histogram</text>
<text x="406.80" y="520.50" font-size="12.8">KDE</text>
<text x="406.80" y="537.80" font-size="12.8">Rayleigh</text>
<path d="M51.60 1255.50v-4.2M51.60 923.90v4.2M93.62 1255.50v-4.2M93.62 923.90v4.2M135.63 1255.50v-4.2M135.63 923.90v4.2M177.65 1255.50v-4.2M177.65 923.90v4.2M219.66 1255.50v-4.2M219.66 923.90v4.2M261.68 1255.50v-4.2M261.68 923.90v4.2M303.69 1255.50v-4.2M303.69 923.90v4.2M345.71 1255.50v-4.2M345.71 923.90v4.2M387.72 1255.50v-4.2M387.72 923.90v4.2M429.74 1255.50v-4.2M429.74 923.90v4.2M471.75 1255.50v-4.2M471.75 923.90v4.2M51.60 1255.50h4.2M471.75 1255.50h-4.2M51.60 1214.05h4.2M471.75 1214.05h-4.2M51.60 1172.60h4.2M471.75 1172.60h-4.2M51.60 1131.15h4.2M471.75 1131.15h-4.2M51.60 1089.70h4.2M471.75 1089.70h-4.2M51.60 1048.25h4.2M471.75 1048.25h-4.2M51.60 1006.80h4.2M471.75 1006.80h-4.2M51.60 965.35h4.2M471.75 965.35h-4.2M51.60 923.90h4.2M471.75 923.90h-4.2" stroke="#555" stroke-width="1" fill="none"/>
<clipPath id="c1255"><rect x="51.60" y="923.90" width="420.15" height="331.60"/></clipPath>
<g clip-path="url(#c1255)">
<path d="M65.25 1255.50V962.66H70.20V1255.50M70.20 1255.50V992.09H75.16V1255.50M75.16 1255.50V1026.70H80.11V1255.50M80.11 1255.50V1064.62H85.06V1255.50M85.06 1255.50V1092.81H90.02V1255.50M90.02 1255.50V1104.62H94.97V1255.50M94.97 1255.50V1125.76H99.93V1255.50M99.93 1255.50V1135.50H104.88V1255.50M104.88 1255.50V1146.28H109.83V1255.50M109.83 1255.50V1154.78H114.79V1255.50M114.79 1255.50V1165.76H119.74V1255.50M119.74 1255.50V1168.66H124.69V1255.50M124.69 1255.50V1173.43H129.65V1255.50M129.65 1255.50V1175.50H134.60V1255.50M134.60 1255.50V1184.21H139.55V1255.50M139.55 1255.50V1185.86H144.51V1255.50M144.51 1255.50V1189.59H149.46V1255.50M149.46 1255.50V1190.84H154.41V1255.50M154.41 1255.50V1197.26H159.37V1255.50M159.37 1255.50V1199.75H164.32V1255.50M164.32 1255.50V1204.72H169.28V1255.50M169.28 1255.50V1205.14H174.23V1255.50M174.23 1255.50V1206.17H179.18V1255.50M179.18 1255.50V1213.43H184.14V1255.50M184.14 1255.50V1214.88H189.09V1255.50M189.09 1255.50V1217.74H194.04V1255.50M194.04 1255.50V1220.04H199.00V1255.50M199.00 1255.50V1222.73H203.95V1255.50M203.95 1255.50V1225.54H208.90V1255.50M208.90 1255.50V1228.37H213.86V1255.50M213.86 1255.50V1230.98H218.81V1255.50M218.81 1255.50V1233.02H223.76V1255.50M223.76 1255.50V1234.90H228.72V1255.50M228.72 1255.50V1236.97H233.67V1255.50M233.67 1255.50V1238.88H238.63V1255.50M238.63 1255.50V1240.42H243.58V1255.50M243.58 1255.50V1241.79H248.53V1255.50M248.53 1255.50V1243.04H253.49V1255.50M253.49 1255.50V1244.20H258.44V1255.50M258.44 1255.50V1245.28H263.39V1255.50M263.39 1255.50V1246.29H268.35V1255.50M268.35 1255.50V1247.25H273.30V1255.50M273.30 1255.50V1248.16H278.25V1255.50M278.25 1255.50V1249.03H283.21V1255.50M283.21 1255.50V1249.85H288.16V1255.50M288.16 1255.50V1250.65H293.11V1255.50M293.11 1255.50V1251.31H298.07V1255.50M298.07 1255.50V1251.66H303.02V1255.50M303.02 1255.50V1251.93H307.98V1255.50M307.98 1255.50V1252.25H312.93V1255.50M312.93 1255.50V1252.59H317.88V1255.50M317.88 1255.50V1253.00H322.84V1255.50M322.84 1255.50V1253.41H327.79V1255.50M327.79 1255.50V1253.76H332.74V1255.50M332.74 1255.50V1254.08H337.70V1255.50M337.70 1255.50V1254.40H342.65V1255.50M342.65 1255.50V1254.68H347.60V1255.50M347.60 1255.50V1254.93H352.56V1255.50M352.56 1255.50V1255.11H357.51V1255.50M357.51 1255.50V1255.23H362.46V1255.50M362.46 1255.50V1255.32H367.42V1255.50" fill="#ccccff" stroke="#3c3c44" stroke-width="1.9"/>
<path d="M55.05 1255.50V1094.26H59.23V1255.50M61.16 1255.50V903.17H65.25V1255.50" fill="#ccccff" stroke="#3c3c44" stroke-width="1.2"/>
<polyline fill="none" stroke="#0000ff" stroke-width="1.6" stroke-linejoin="round" points="55.4,1147.3 56.4,1129.0 57.4,1109.9 58.4,1089.4 59.3,1069.3 60.3,1050.0 61.3,1029.3 62.3,1009.8 63.3,995.2 64.3,979.7 65.3,966.1 66.3,961.8 67.3,964.5 68.3,967.1 69.3,970.1 70.2,976.4 71.2,985.0 72.2,994.6 73.2,1004.0 74.2,1011.6 75.2,1017.8 76.2,1023.3 77.2,1028.9 78.2,1035.2 79.2,1042.9 80.2,1050.0 81.1,1054.6 82.1,1058.4 83.1,1064.9 84.1,1074.4 85.1,1082.3 86.1,1087.2 87.1,1091.1 88.1,1094.5 89.1,1097.7 90.1,1101.1 91.1,1104.4 92.0,1107.6 93.0,1110.7 94.0,1113.7 95.0,1116.5 96.0,1119.3 97.0,1122.0 98.0,1124.7 99.0,1127.6 100.0,1130.5 101.0,1133.3 102.0,1136.3 102.9,1139.2 103.9,1142.0 104.9,1144.5 105.9,1146.8 106.9,1149.0 107.9,1151.0 108.9,1153.0 109.9,1154.8 110.9,1156.6 111.9,1158.3 112.9,1160.0 113.8,1161.7 114.8,1163.3 115.8,1164.8 116.8,1166.2 117.8,1167.6 118.8,1168.8 119.8,1169.9 120.8,1170.9 121.8,1171.9 122.8,1172.8 123.8,1173.6 124.7,1174.4 125.7,1175.2 126.7,1175.9 127.7,1176.7 128.7,1177.4 129.7,1178.2 130.7,1179.0 131.7,1179.8 132.7,1180.6 133.7,1181.4 134.7,1182.2 135.6,1183.0 136.6,1183.8 137.6,1184.6 138.6,1185.4 139.6,1186.1 140.6,1186.9 141.6,1187.6 142.6,1188.3 143.6,1189.0 144.6,1189.7 145.6,1190.4 146.5,1191.1 147.5,1191.7 148.5,1192.4 149.5,1193.1 150.5,1193.8 151.5,1194.5 152.5,1195.2 153.5,1195.9 154.5,1196.7 155.5,1197.4 156.5,1198.1 157.4,1198.8 158.4,1199.5 159.4,1200.1 160.4,1200.7 161.4,1201.3 162.4,1201.8 163.4,1202.3 164.4,1202.8 165.4,1203.3 166.4,1203.7 167.4,1204.2 168.3,1204.6 169.3,1205.1 170.3,1205.6 171.3,1206.1 172.3,1206.6 173.3,1207.0 174.3,1207.5 175.3,1208.0 176.3,1208.5 177.3,1209.0 178.3,1209.5 179.2,1210.0 180.2,1210.6 181.2,1211.3 182.2,1212.0 183.2,1212.7 184.2,1213.5 185.2,1214.2 186.2,1214.9 187.2,1215.5 188.2,1216.1 189.2,1216.6 190.1,1217.1 191.1,1217.5 192.1,1218.0 193.1,1218.4 194.1,1218.9 195.1,1219.3 196.1,1219.8 197.1,1220.3 198.1,1220.8 199.1,1221.4 200.0,1221.9 201.0,1222.5 202.0,1223.1 203.0,1223.6 204.0,1224.2 205.0,1224.7 206.0,1225.3 207.0,1225.9 208.0,1226.4 209.0,1227.0 210.0,1227.6 210.9,1228.1 211.9,1228.7 212.9,1229.2 213.9,1229.8 214.9,1230.3 215.9,1230.8 216.9,1231.2 217.9,1231.7 218.9,1232.1 219.9,1232.5 220.9,1232.9 221.8,1233.2 222.8,1233.6 223.8,1234.0 224.8,1234.3 225.8,1234.7 226.8,1235.1 227.8,1235.5 228.8,1235.9 229.8,1236.4 230.8,1236.8 231.8,1237.2 232.7,1237.6 233.7,1238.0 234.7,1238.4 235.7,1238.7 236.7,1239.1 237.7,1239.4 238.7,1239.7 239.7,1240.0 240.7,1240.3 241.7,1240.6 242.7,1240.9 243.6,1241.1 244.6,1241.4 245.6,1241.7 246.6,1241.9 247.6,1242.2 248.6,1242.4 249.6,1242.7 250.6,1242.9 251.6,1243.2 252.6,1243.4 253.6,1243.6 254.5,1243.9 255.5,1244.1 256.5,1244.3 257.5,1244.5 258.5,1244.8 259.5,1245.0 260.5,1245.2 261.5,1245.4 262.5,1245.6 263.5,1245.8 264.5,1246.0 265.4,1246.2 266.4,1246.4 267.4,1246.6 268.4,1246.8 269.4,1247.0 270.4,1247.2 271.4,1247.4 272.4,1247.5 273.4,1247.7 274.4,1247.9 275.4,1248.1 276.3,1248.3 277.3,1248.4 278.3,1248.6 279.3,1248.8 280.3,1249.0 281.3,1249.1 282.3,1249.3 283.3,1249.5 284.3,1249.6 285.3,1249.8 286.3,1249.9 287.2,1250.1 288.2,1250.3 289.2,1250.4 290.2,1250.6 291.2,1250.7 292.2,1250.9 293.2,1251.0 294.2,1251.2 295.2,1251.3 296.2,1251.4 297.2,1251.4 298.1,1251.5 299.1,1251.6 300.1,1251.6 301.1,1251.7 302.1,1251.7 303.1,1251.8 304.1,1251.9 305.1,1251.9 306.1,1252.0 307.1,1252.0 308.1,1252.1 309.0,1252.2 310.0,1252.2 311.0,1252.3 312.0,1252.4 313.0,1252.4 314.0,1252.5 315.0,1252.6 316.0,1252.6 317.0,1252.7 318.0,1252.8 319.0,1252.9 319.9,1253.0 320.9,1253.1 321.9,1253.1 322.9,1253.2 323.9,1253.3 324.9,1253.4 325.9,1253.5 326.9,1253.5 327.9,1253.6 328.9,1253.7 329.9,1253.7 330.8,1253.8 331.8,1253.9 332.8,1253.9 333.8,1254.0 334.8,1254.1 335.8,1254.1 336.8,1254.2 337.8,1254.2 338.8,1254.3 339.8,1254.4 340.8,1254.4 341.7,1254.5 342.7,1254.6 343.7,1254.6 344.7,1254.7 345.7,1254.7 346.7,1254.8 347.7,1254.8 348.7,1254.9 349.7,1254.9 350.7,1255.0 351.7,1255.0 352.6,1255.0 353.6,1255.1 354.6,1255.1 355.6,1255.1 356.6,1255.2 357.6,1255.2 358.6,1255.2 359.6,1255.2 360.6,1255.2 361.6,1255.3 362.6,1255.3 363.5,1255.3 364.5,1255.3 365.5,1255.3 366.5,1255.3 367.5,1255.4 368.5,1255.4 369.5,1255.4 370.5,1255.4 371.5,1255.4 372.5,1255.4 373.5,1255.4 374.4,1255.4 375.4,1255.4 376.4,1255.4 377.4,1255.5 378.4,1255.5 379.4,1255.5 380.4,1255.5 381.4,1255.5 382.4,1255.5 383.4,1255.5 384.4,1255.5 385.3,1255.5 386.3,1255.5 387.3,1255.5 388.3,1255.5 389.3,1255.5 390.3,1255.5 391.3,1255.5 392.3,1255.5 393.3,1255.5 394.3,1255.5 395.3,1255.5 396.2,1255.5 397.2,1255.5 398.2,1255.5 399.2,1255.5 400.2,1255.5 401.2,1255.5 402.2,1255.5 403.2,1255.5 404.2,1255.5 405.2,1255.5 406.2,1255.5 407.1,1255.5 408.1,1255.5 409.1,1255.5 410.1,1255.5 411.1,1255.5 412.1,1255.5 413.1,1255.5 414.1,1255.5 415.1,1255.5 416.1,1255.5 417.1,1255.5 418.0,1255.5 419.0,1255.5 420.0,1255.5 421.0,1255.5 422.0,1255.5 423.0,1255.5 424.0,1255.5 425.0,1255.5 426.0,1255.5 427.0,1255.5 428.0,1255.5 428.9,1255.5 429.9,1255.5 430.9,1255.5 431.9,1255.5 432.9,1255.5 433.9,1255.5 434.9,1255.5 435.9,1255.5 436.9,1255.5 437.9,1255.5 438.9,1255.5 439.8,1255.5 440.8,1255.5 441.8,1255.5 442.8,1255.5 443.8,1255.5 444.8,1255.5 445.8,1255.5 446.8,1255.5 447.8,1255.5 448.8,1255.5 449.8,1255.5 450.7,1255.5"/>
<polyline fill="none" stroke="#1a8f1a" stroke-width="1.6" stroke-linejoin="round" points="55.4,1087.2 56.4,1081.1 57.4,1076.5 58.4,1072.8 59.3,1070.0 60.3,1067.7 61.3,1065.9 62.3,1064.6 63.3,1063.6 64.3,1063.0 65.3,1062.6 66.3,1062.4 67.3,1062.4 68.3,1062.6 69.3,1063.0 70.2,1063.5 71.2,1064.2 72.2,1065.0 73.2,1065.9 74.2,1066.8 75.2,1067.9 76.2,1069.1 77.2,1070.3 78.2,1071.6 79.2,1072.9 80.2,1074.3 81.1,1075.8 82.1,1077.3 83.1,1078.8 84.1,1080.4 85.1,1082.0 86.1,1083.6 87.1,1085.3 88.1,1087.0 89.1,1088.7 90.1,1090.4 91.1,1092.2 92.0,1093.9 93.0,1095.7 94.0,1097.5 95.0,1099.3 96.0,1101.0 97.0,1102.8 98.0,1104.7 99.0,1106.5 100.0,1108.3 101.0,1110.1 102.0,1111.9 102.9,1113.7 103.9,1115.5 104.9,1117.3 105.9,1119.1 106.9,1120.8 107.9,1122.6 108.9,1124.4 109.9,1126.1 110.9,1127.9 111.9,1129.6 112.9,1131.4 113.8,1133.1 114.8,1134.8 115.8,1136.5 116.8,1138.2 117.8,1139.8 118.8,1141.5 119.8,1143.1 120.8,1144.8 121.8,1146.4 122.8,1148.0 123.8,1149.6 124.7,1151.1 125.7,1152.7 126.7,1154.2 127.7,1155.8 128.7,1157.3 129.7,1158.8 130.7,1160.3 131.7,1161.7 132.7,1163.2 133.7,1164.6 134.7,1166.0 135.6,1167.4 136.6,1168.8 137.6,1170.2 138.6,1171.5 139.6,1172.9 140.6,1174.2 141.6,1175.5 142.6,1176.8 143.6,1178.1 144.6,1179.3 145.6,1180.6 146.5,1181.8 147.5,1183.0 148.5,1184.2 149.5,1185.4 150.5,1186.6 151.5,1187.7 152.5,1188.8 153.5,1190.0 154.5,1191.1 155.5,1192.1 156.5,1193.2 157.4,1194.3 158.4,1195.3 159.4,1196.3 160.4,1197.4 161.4,1198.4 162.4,1199.3 163.4,1200.3 164.4,1201.3 165.4,1202.2 166.4,1203.1 167.4,1204.1 168.3,1205.0 169.3,1205.8 170.3,1206.7 171.3,1207.6 172.3,1208.4 173.3,1209.3 174.3,1210.1 175.3,1210.9 176.3,1211.7 177.3,1212.5 178.3,1213.2 179.2,1214.0 180.2,1214.8 181.2,1215.5 182.2,1216.2 183.2,1216.9 184.2,1217.6 185.2,1218.3 186.2,1219.0 187.2,1219.7 188.2,1220.3 189.2,1221.0 190.1,1221.6 191.1,1222.2 192.1,1222.8 193.1,1223.5 194.1,1224.0 195.1,1224.6 196.1,1225.2 197.1,1225.8 198.1,1226.3 199.1,1226.9 200.0,1227.4 201.0,1227.9 202.0,1228.5 203.0,1229.0 204.0,1229.5 205.0,1230.0 206.0,1230.5 207.0,1230.9 208.0,1231.4 209.0,1231.9 210.0,1232.3 210.9,1232.8 211.9,1233.2 212.9,1233.6 213.9,1234.0 214.9,1234.5 215.9,1234.9 216.9,1235.3 217.9,1235.7 218.9,1236.0 219.9,1236.4 220.9,1236.8 221.8,1237.1 222.8,1237.5 223.8,1237.9 224.8,1238.2 225.8,1238.5 226.8,1238.9 227.8,1239.2 228.8,1239.5 229.8,1239.8 230.8,1240.1 231.8,1240.5 232.7,1240.8 233.7,1241.0 234.7,1241.3 235.7,1241.6 236.7,1241.9 237.7,1242.2 238.7,1242.4 239.7,1242.7 240.7,1242.9 241.7,1243.2 242.7,1243.4 243.6,1243.7 244.6,1243.9 245.6,1244.2 246.6,1244.4 247.6,1244.6 248.6,1244.8 249.6,1245.0 250.6,1245.3 251.6,1245.5 252.6,1245.7 253.6,1245.9 254.5,1246.1 255.5,1246.3 256.5,1246.4 257.5,1246.6 258.5,1246.8 259.5,1247.0 260.5,1247.2 261.5,1247.3 262.5,1247.5 263.5,1247.7 264.5,1247.8 265.4,1248.0 266.4,1248.1 267.4,1248.3 268.4,1248.4 269.4,1248.6 270.4,1248.7 271.4,1248.9 272.4,1249.0 273.4,1249.2 274.4,1249.3 275.4,1249.4 276.3,1249.5 277.3,1249.7 278.3,1249.8 279.3,1249.9 280.3,1250.0 281.3,1250.1 282.3,1250.3 283.3,1250.4 284.3,1250.5 285.3,1250.6 286.3,1250.7 287.2,1250.8 288.2,1250.9 289.2,1251.0 290.2,1251.1 291.2,1251.2 292.2,1251.3 293.2,1251.4 294.2,1251.4 295.2,1251.5 296.2,1251.6 297.2,1251.7 298.1,1251.8 299.1,1251.9 300.1,1251.9 301.1,1252.0 302.1,1252.1 303.1,1252.2 304.1,1252.2 305.1,1252.3 306.1,1252.4 307.1,1252.4 308.1,1252.5 309.0,1252.6 310.0,1252.6 311.0,1252.7 312.0,1252.8 313.0,1252.8 314.0,1252.9 315.0,1252.9 316.0,1253.0 317.0,1253.0 318.0,1253.1 319.0,1253.1 319.9,1253.2 320.9,1253.2 321.9,1253.3 322.9,1253.3 323.9,1253.4 324.9,1253.4 325.9,1253.5 326.9,1253.5 327.9,1253.6 328.9,1253.6 329.9,1253.7 330.8,1253.7 331.8,1253.7 332.8,1253.8 333.8,1253.8 334.8,1253.9 335.8,1253.9 336.8,1253.9 337.8,1254.0 338.8,1254.0 339.8,1254.0 340.8,1254.1 341.7,1254.1 342.7,1254.1 343.7,1254.2 344.7,1254.2 345.7,1254.2 346.7,1254.2 347.7,1254.3 348.7,1254.3 349.7,1254.3 350.7,1254.3 351.7,1254.4 352.6,1254.4 353.6,1254.4 354.6,1254.4 355.6,1254.5 356.6,1254.5 357.6,1254.5 358.6,1254.5 359.6,1254.6 360.6,1254.6 361.6,1254.6 362.6,1254.6 363.5,1254.6 364.5,1254.7 365.5,1254.7 366.5,1254.7 367.5,1254.7 368.5,1254.7 369.5,1254.8 370.5,1254.8 371.5,1254.8 372.5,1254.8 373.5,1254.8 374.4,1254.8 375.4,1254.8 376.4,1254.9 377.4,1254.9 378.4,1254.9 379.4,1254.9 380.4,1254.9 381.4,1254.9 382.4,1254.9 383.4,1255.0 384.4,1255.0 385.3,1255.0 386.3,1255.0 387.3,1255.0 388.3,1255.0 389.3,1255.0 390.3,1255.0 391.3,1255.1 392.3,1255.1 393.3,1255.1 394.3,1255.1 395.3,1255.1 396.2,1255.1 397.2,1255.1 398.2,1255.1 399.2,1255.1 400.2,1255.1 401.2,1255.1 402.2,1255.2 403.2,1255.2 404.2,1255.2 405.2,1255.2 406.2,1255.2 407.1,1255.2 408.1,1255.2 409.1,1255.2 410.1,1255.2 411.1,1255.2 412.1,1255.2 413.1,1255.2 414.1,1255.2 415.1,1255.2 416.1,1255.3 417.1,1255.3 418.0,1255.3 419.0,1255.3 420.0,1255.3 421.0,1255.3 422.0,1255.3 423.0,1255.3 424.0,1255.3 425.0,1255.3 426.0,1255.3 427.0,1255.3 428.0,1255.3 428.9,1255.3 429.9,1255.3 430.9,1255.3 431.9,1255.3 432.9,1255.3 433.9,1255.3 434.9,1255.3 435.9,1255.3 436.9,1255.3 437.9,1255.4 438.9,1255.4 439.8,1255.4 440.8,1255.4 441.8,1255.4 442.8,1255.4 443.8,1255.4 444.8,1255.4 445.8,1255.4 446.8,1255.4 447.8,1255.4 448.8,1255.4 449.8,1255.4 450.7,1255.4"/>
</g>
<rect x="51.60" y="923.90" width="420.15" height="331.60" fill="none" stroke="#555" stroke-width="1"/>
<text x="51.60" y="1271.40" text-anchor="middle">0</text>
<text x="93.62" y="1271.40" text-anchor="middle">0.5</text>
<text x="135.63" y="1271.40" text-anchor="middle">1</text>
<text x="177.65" y="1271.40" text-anchor="middle">1.5</text>
<text x="219.66" y="1271.40" text-anchor="middle">2</text>
<text x="261.68" y="1271.40" text-anchor="middle">2.5</text>
<text x="303.69" y="1271.40" text-anchor="middle">3</text>
<text x="345.71" y="1271.40" text-anchor="middle">3.5</text>
<text x="387.72" y="1271.40" text-anchor="middle">4</text>
<text x="429.74" y="1271.40" text-anchor="middle">4.5</text>
<text x="471.75" y="1271.40" text-anchor="middle">5</text>
<text x="48.20" y="1260.30" text-anchor="end">0</text>
<text x="48.20" y="1218.85" text-anchor="end">0.2</text>
<text x="48.20" y="1177.40" text-anchor="end">0.4</text>
<text x="48.20" y="1135.95" text-anchor="end">0.6</text>
<text x="48.20" y="1094.50" text-anchor="end">0.8</text>
<text x="48.20" y="1053.05" text-anchor="end">1</text>
<text x="48.20" y="1011.60" text-anchor="end">1.2</text>
<text x="48.20" y="970.15" text-anchor="end">1.4</text>
<text x="48.20" y="928.70" text-anchor="end">1.6</text>
<text x="260.75" y="1286.20" text-anchor="middle">Significant wave height (m)</text>
<text transform="translate(20.20 1089.70) rotate(-90)" text-anchor="middle">Probability Density</text>
<rect x="351.60" y="930.60" width="114.50" height="55.10" fill="#fff" stroke="#555" stroke-width="1"/>
<rect x="359.40" y="934.60" width="39.3" height="12.8" fill="#ccccff" stroke="#4a4a55" stroke-width="1"/>
<path d="M359.40 957.80h39.3" stroke="#0000ff" stroke-width="1.7"/>
<path d="M359.40 975.10h39.3" stroke="#1a8f1a" stroke-width="1.7"/>
<text x="404.00" y="946.20" font-size="12.8">Histogram</text>
<text x="404.00" y="963.50" font-size="12.8">KDE</text>
<text x="404.00" y="980.80" font-size="12.8">Weibull</text>
<path d="M546.5 369.5h8m-4 -4v8M547.5 369.5h8m-4 -4v8M547.5 369.5h8m-4 -4v8M547.5 369.5h8m-4 -4v8M548.5 369.5h8m-4 -4v8M548.5 369.5h8m-4 -4v8M549.5 368.5h8m-4 -4v8M549.5 368.5h8m-4 -4v8M549.5 368.5h8m-4 -4v8M550.5 368.5h8m-4 -4v8M550.5 368.5h8m-4 -4v8M550.5 367.5h8m-4 -4v8M551.5 367.5h8m-4 -4v8M551.5 367.5h8m-4 -4v8M552.5 367.5h8m-4 -4v8M552.5 366.5h8m-4 -4v8M552.5 366.5h8m-4 -4v8M553.5 366.5h8m-4 -4v8M553.5 366.5h8m-4 -4v8M553.5 365.5h8m-4 -4v8M554.5 365.5h8m-4 -4v8M554.5 365.5h8m-4 -4v8M554.5 364.5h8m-4 -4v8M555.5 364.5h8m-4 -4v8M555.5 364.5h8m-4 -4v8M555.5 363.5h8m-4 -4v8M556.5 363.5h8m-4 -4v8M556.5 363.5h8m-4 -4v8M557.5 362.5h8m-4 -4v8M557.5 362.5h8m-4 -4v8M557.5 361.5h8m-4 -4v8M558.5 361.5h8m-4 -4v8M558.5 361.5h8m-4 -4v8M558.5 360.5h8m-4 -4v8M559.5 360.5h8m-4 -4v8M559.5 360.5h8m-4 -4v8M559.5 359.5h8m-4 -4v8M560.5 359.5h8m-4 -4v8M560.5 358.5h8m-4 -4v8M560.5 358.5h8m-4 -4v8M561.5 358.5h8m-4 -4v8M561.5 357.5h8m-4 -4v8M561.5 357.5h8m-4 -4v8M562.5 357.5h8m-4 -4v8M562.5 356.5h8m-4 -4v8M563.5 356.5h8m-4 -4v8M563.5 355.5h8m-4 -4v8M563.5 355.5h8m-4 -4v8M564.5 355.5h8m-4 -4v8M564.5 354.5h8m-4 -4v8M564.5 354.5h8m-4 -4v8M565.5 354.5h8m-4 -4v8M565.5 353.5h8m-4 -4v8M565.5 353.5h8m-4 -4v8M566.5 353.5h8m-4 -4v8M566.5 352.5h8m-4 -4v8M567.5 352.5h8m-4 -4v8M567.5 351.5h8m-4 -4v8M567.5 351.5h8m-4 -4v8M568.5 351.5h8m-4 -4v8M568.5 350.5h8m-4 -4v8M568.5 350.5h8m-4 -4v8M569.5 350.5h8m-4 -4v8M569.5 349.5h8m-4 -4v8M570.5 349.5h8m-4 -4v8M570.5 348.5h8m-4 -4v8M570.5 348.5h8m-4 -4v8M571.5 348.5h8m-4 -4v8M571.5 347.5h8m-4 -4v8M571.5 347.5h8m-4 -4v8M572.5 347.5h8m-4 -4v8M572.5 346.5h8m-4 -4v8M573.5 346.5h8m-4 -4v8M573.5 345.5h8m-4 -4v8M573.5 345.5h8m-4 -4v8M574.5 344.5h8m-4 -4v8M574.5 344.5h8m-4 -4v8M574.5 344.5h8m-4 -4v8M575.5 343.5h8m-4 -4v8M575.5 343.5h8m-4 -4v8M576.5 343.5h8m-4 -4v8M576.5 342.5h8m-4 -4v8M576.5 342.5h8m-4 -4v8M577.5 342.5h8m-4 -4v8M577.5 341.5h8m-4 -4v8M578.5 341.5h8m-4 -4v8M578.5 341.5h8m-4 -4v8M578.5 340.5h8m-4 -4v8M579.5 340.5h8m-4 -4v8M579.5 340.5h8m-4 -4v8M579.5 339.5h8m-4 -4v8M580.5 339.5h8m-4 -4v8M580.5 339.5h8m-4 -4v8M581.5 338.5h8m-4 -4v8M581.5 338.5h8m-4 -4v8M581.5 338.5h8m-4 -4v8M582.5 337.5h8m-4 -4v8M582.5 337.5h8m-4 -4v8M583.5 336.5h8m-4 -4v8M583.5 336.5h8m-4 -4v8M584.5 336.5h8m-4 -4v8M584.5 335.5h8m-4 -4v8M584.5 335.5h8m-4 -4v8M585.5 335.5h8m-4 -4v8M585.5 335.5h8m-4 -4v8M586.5 334.5h8m-4 -4v8M586.5 334.5h8m-4 -4v8M586.5 334.5h8m-4 -4v8M587.5 333.5h8m-4 -4v8M587.5 333.5h8m-4 -4v8M588.5 333.5h8m-4 -4v8M588.5 332.5h8m-4 -4v8M588.5 332.5h8m-4 -4v8M589.5 332.5h8m-4 -4v8M589.5 331.5h8m-4 -4v8M590.5 331.5h8m-4 -4v8M590.5 331.5h8m-4 -4v8M591.5 330.5h8m-4 -4v8M591.5 330.5h8m-4 -4v8M592.5 330.5h8m-4 -4v8M592.5 329.5h8m-4 -4v8M593.5 329.5h8m-4 -4v8M593.5 329.5h8m-4 -4v8M593.5 329.5h8m-4 -4v8M594.5 328.5h8m-4 -4v8M594.5 328.5h8m-4 -4v8M594.5 328.5h8m-4 -4v8M595.5 328.5h8m-4 -4v8M595.5 327.5h8m-4 -4v8M596.5 327.5h8m-4 -4v8M596.5 327.5h8m-4 -4v8M596.5 327.5h8m-4 -4v8M597.5 326.5h8m-4 -4v8M597.5 326.5h8m-4 -4v8M598.5 326.5h8m-4 -4v8M598.5 326.5h8m-4 -4v8M599.5 325.5h8m-4 -4v8M599.5 325.5h8m-4 -4v8M599.5 325.5h8m-4 -4v8M600.5 325.5h8m-4 -4v8M600.5 324.5h8m-4 -4v8M601.5 324.5h8m-4 -4v8M601.5 324.5h8m-4 -4v8M602.5 324.5h8m-4 -4v8M602.5 323.5h8m-4 -4v8M603.5 323.5h8m-4 -4v8M603.5 323.5h8m-4 -4v8M604.5 323.5h8m-4 -4v8M605.5 322.5h8m-4 -4v8M605.5 322.5h8m-4 -4v8M606.5 322.5h8m-4 -4v8M606.5 321.5h8m-4 -4v8M607.5 321.5h8m-4 -4v8M608.5 321.5h8m-4 -4v8M608.5 321.5h8m-4 -4v8M609.5 320.5h8m-4 -4v8M610.5 320.5h8m-4 -4v8M610.5 320.5h8m-4 -4v8M610.5 320.5h8m-4 -4v8M611.5 319.5h8m-4 -4v8M611.5 319.5h8m-4 -4v8M612.5 319.5h8m-4 -4v8M612.5 319.5h8m-4 -4v8M612.5 319.5h8m-4 -4v8M613.5 318.5h8m-4 -4v8M613.5 318.5h8m-4 -4v8M613.5 318.5h8m-4 -4v8M614.5 318.5h8m-4 -4v8M614.5 318.5h8m-4 -4v8M615.5 318.5h8m-4 -4v8M615.5 317.5h8m-4 -4v8M616.5 317.5h8m-4 -4v8M616.5 317.5h8m-4 -4v8M616.5 317.5h8m-4 -4v8M617.5 317.5h8m-4 -4v8M617.5 316.5h8m-4 -4v8M618.5 316.5h8m-4 -4v8M618.5 316.5h8m-4 -4v8M619.5 316.5h8m-4 -4v8M619.5 315.5h8m-4 -4v8M620.5 315.5h8m-4 -4v8M620.5 315.5h8m-4 -4v8M621.5 315.5h8m-4 -4v8M621.5 315.5h8m-4 -4v8M622.5 314.5h8m-4 -4v8M622.5 314.5h8m-4 -4v8M623.5 314.5h8m-4 -4v8M624.5 314.5h8m-4 -4v8M624.5 313.5h8m-4 -4v8M625.5 313.5h8m-4 -4v8M625.5 313.5h8m-4 -4v8M626.5 313.5h8m-4 -4v8M627.5 312.5h8m-4 -4v8M627.5 312.5h8m-4 -4v8M628.5 312.5h8m-4 -4v8M629.5 311.5h8m-4 -4v8M629.5 311.5h8m-4 -4v8M630.5 311.5h8m-4 -4v8M631.5 311.5h8m-4 -4v8M632.5 310.5h8m-4 -4v8M632.5 310.5h8m-4 -4v8M633.5 310.5h8m-4 -4v8M634.5 309.5h8m-4 -4v8M635.5 309.5h8m-4 -4v8M636.5 309.5h8m-4 -4v8M636.5 308.5h8m-4 -4v8M637.5 308.5h8m-4 -4v8M638.5 308.5h8m-4 -4v8M639.5 307.5h8m-4 -4v8M640.5 307.5h8m-4 -4v8M641.5 307.5h8m-4 -4v8M642.5 306.5h8m-4 -4v8M643.5 306.5h8m-4 -4v8M644.5 305.5h8m-4 -4v8M646.5 305.5h8m-4 -4v8M647.5 305.5h8m-4 -4v8M648.5 304.5h8m-4 -4v8M649.5 304.5h8m-4 -4v8M651.5 303.5h8m-4 -4v8M652.5 303.5h8m-4 -4v8M653.5 302.5h8m-4 -4v8M655.5 302.5h8m-4 -4v8M657.5 301.5h8m-4 -4v8M658.5 301.5h8m-4 -4v8M660.5 300.5h8m-4 -4v8M662.5 300.5h8m-4 -4v8M664.5 299.5h8m-4 -4v8M666.5 298.5h8m-4 -4v8M668.5 298.5h8m-4 -4v8M670.5 297.5h8m-4 -4v8M672.5 296.5h8m-4 -4v8M675.5 296.5h8m-4 -4v8M678.5 295.5h8m-4 -4v8M681.5 294.5h8m-4 -4v8M684.5 293.5h8m-4 -4v8M687.5 292.5h8m-4 -4v8M691.5 292.5h8m-4 -4v8M695.5 291.5h8m-4 -4v8M699.5 290.5h8m-4 -4v8M704.5 289.5h8m-4 -4v8M710.5 288.5h8m-4 -4v8M716.5 287.5h8m-4 -4v8M723.5 285.5h8m-4 -4v8M732.5 284.5h8m-4 -4v8M742.5 281.5h8m-4 -4v8M755.5 279.5h8m-4 -4v8M772.5 276.5h8m-4 -4v8M796.5 273.5h8m-4 -4v8M836.5 267.5h8m-4 -4v8M936.5 256.5h8m-4 -4v8" stroke="#2a2aff" stroke-width="1" fill="none"/>
<path d="M940.89 64.44L550.69 370.52" stroke="#ff3535" stroke-width="1.05" stroke-dasharray="7.5 4.6 1.2 5.3" fill="none"/>
<path d="M549.80 18.90V371.80H999.70" stroke="#555" stroke-width="1" fill="none"/>
<path d="M549.80 371.80v-4.2M624.78 371.80v-4.2M699.77 371.80v-4.2M774.75 371.80v-4.2M849.73 371.80v-4.2M924.72 371.80v-4.2M999.70 371.80v-4.2M549.80 371.80h4.2M549.80 312.98h4.2M549.80 254.17h4.2M549.80 195.35h4.2M549.80 136.53h4.2M549.80 77.72h4.2M549.80 18.90h4.2" stroke="#555" stroke-width="1" fill="none"/>
<text x="549.80" y="387.80" text-anchor="middle">0</text>
<text x="624.78" y="387.80" text-anchor="middle">2</text>
<text x="699.77" y="387.80" text-anchor="middle">4</text>
<text x="774.75" y="387.80" text-anchor="middle">6</text>
<text x="849.73" y="387.80" text-anchor="middle">8</text>
<text x="924.72" y="387.80" text-anchor="middle">10</text>
<text x="999.70" y="387.80" text-anchor="middle">12</text>
<text x="546.40" y="376.60" text-anchor="end">0</text>
<text x="546.40" y="317.78" text-anchor="end">2</text>
<text x="546.40" y="258.97" text-anchor="end">4</text>
<text x="546.40" y="200.15" text-anchor="end">6</text>
<text x="546.40" y="141.33" text-anchor="end">8</text>
<text x="546.40" y="82.52" text-anchor="end">10</text>
<text x="546.40" y="23.70" text-anchor="end">12</text>
<text x="774.80" y="402.70" text-anchor="middle">Quantiles of Lognormal Distribution</text>
<text transform="translate(523.00 186.00) rotate(-90)" text-anchor="middle">Quantiles of significant wave height (m)</text>
<path d="M552.5 808.5h8m-4 -4v8M554.5 808.5h8m-4 -4v8M556.5 808.5h8m-4 -4v8M557.5 807.5h8m-4 -4v8M559.5 807.5h8m-4 -4v8M560.5 807.5h8m-4 -4v8M561.5 807.5h8m-4 -4v8M561.5 807.5h8m-4 -4v8M562.5 807.5h8m-4 -4v8M563.5 807.5h8m-4 -4v8M564.5 807.5h8m-4 -4v8M564.5 807.5h8m-4 -4v8M565.5 806.5h8m-4 -4v8M566.5 806.5h8m-4 -4v8M566.5 806.5h8m-4 -4v8M567.5 806.5h8m-4 -4v8M568.5 806.5h8m-4 -4v8M568.5 806.5h8m-4 -4v8M569.5 806.5h8m-4 -4v8M569.5 806.5h8m-4 -4v8M570.5 806.5h8m-4 -4v8M570.5 806.5h8m-4 -4v8M571.5 806.5h8m-4 -4v8M571.5 806.5h8m-4 -4v8M572.5 805.5h8m-4 -4v8M572.5 805.5h8m-4 -4v8M573.5 805.5h8m-4 -4v8M573.5 805.5h8m-4 -4v8M574.5 805.5h8m-4 -4v8M574.5 805.5h8m-4 -4v8M574.5 805.5h8m-4 -4v8M575.5 805.5h8m-4 -4v8M575.5 805.5h8m-4 -4v8M576.5 805.5h8m-4 -4v8M576.5 805.5h8m-4 -4v8M576.5 805.5h8m-4 -4v8M577.5 805.5h8m-4 -4v8M577.5 805.5h8m-4 -4v8M578.5 805.5h8m-4 -4v8M578.5 804.5h8m-4 -4v8M578.5 804.5h8m-4 -4v8M579.5 804.5h8m-4 -4v8M579.5 804.5h8m-4 -4v8M579.5 804.5h8m-4 -4v8M580.5 804.5h8m-4 -4v8M580.5 804.5h8m-4 -4v8M581.5 804.5h8m-4 -4v8M581.5 804.5h8m-4 -4v8M582.5 804.5h8m-4 -4v8M583.5 804.5h8m-4 -4v8M583.5 804.5h8m-4 -4v8M584.5 804.5h8m-4 -4v8M584.5 803.5h8m-4 -4v8M585.5 803.5h8m-4 -4v8M586.5 803.5h8m-4 -4v8M586.5 803.5h8m-4 -4v8M587.5 803.5h8m-4 -4v8M587.5 803.5h8m-4 -4v8M588.5 803.5h8m-4 -4v8M589.5 803.5h8m-4 -4v8M589.5 803.5h8m-4 -4v8M590.5 803.5h8m-4 -4v8M590.5 802.5h8m-4 -4v8M591.5 802.5h8m-4 -4v8M591.5 802.5h8m-4 -4v8M592.5 802.5h8m-4 -4v8M592.5 802.5h8m-4 -4v8M593.5 802.5h8m-4 -4v8M594.5 802.5h8m-4 -4v8M594.5 802.5h8m-4 -4v8M595.5 802.5h8m-4 -4v8M595.5 802.5h8m-4 -4v8M596.5 801.5h8m-4 -4v8M596.5 801.5h8m-4 -4v8M597.5 801.5h8m-4 -4v8M597.5 801.5h8m-4 -4v8M598.5 801.5h8m-4 -4v8M598.5 801.5h8m-4 -4v8M598.5 801.5h8m-4 -4v8M599.5 801.5h8m-4 -4v8M599.5 801.5h8m-4 -4v8M600.5 801.5h8m-4 -4v8M600.5 800.5h8m-4 -4v8M601.5 800.5h8m-4 -4v8M601.5 800.5h8m-4 -4v8M602.5 800.5h8m-4 -4v8M602.5 800.5h8m-4 -4v8M603.5 800.5h8m-4 -4v8M603.5 800.5h8m-4 -4v8M604.5 800.5h8m-4 -4v8M604.5 800.5h8m-4 -4v8M604.5 800.5h8m-4 -4v8M605.5 799.5h8m-4 -4v8M605.5 799.5h8m-4 -4v8M606.5 799.5h8m-4 -4v8M606.5 799.5h8m-4 -4v8M607.5 799.5h8m-4 -4v8M607.5 799.5h8m-4 -4v8M607.5 799.5h8m-4 -4v8M608.5 799.5h8m-4 -4v8M608.5 799.5h8m-4 -4v8M609.5 799.5h8m-4 -4v8M609.5 798.5h8m-4 -4v8M609.5 798.5h8m-4 -4v8M610.5 798.5h8m-4 -4v8M610.5 798.5h8m-4 -4v8M611.5 798.5h8m-4 -4v8M611.5 798.5h8m-4 -4v8M612.5 798.5h8m-4 -4v8M612.5 798.5h8m-4 -4v8M612.5 798.5h8m-4 -4v8M613.5 797.5h8m-4 -4v8M613.5 797.5h8m-4 -4v8M614.5 797.5h8m-4 -4v8M614.5 797.5h8m-4 -4v8M614.5 797.5h8m-4 -4v8M615.5 797.5h8m-4 -4v8M615.5 797.5h8m-4 -4v8M615.5 797.5h8m-4 -4v8M616.5 797.5h8m-4 -4v8M616.5 796.5h8m-4 -4v8M617.5 796.5h8m-4 -4v8M617.5 796.5h8m-4 -4v8M617.5 796.5h8m-4 -4v8M618.5 796.5h8m-4 -4v8M618.5 796.5h8m-4 -4v8M619.5 796.5h8m-4 -4v8M619.5 796.5h8m-4 -4v8M619.5 795.5h8m-4 -4v8M620.5 795.5h8m-4 -4v8M620.5 795.5h8m-4 -4v8M620.5 795.5h8m-4 -4v8M621.5 795.5h8m-4 -4v8M621.5 795.5h8m-4 -4v8M622.5 795.5h8m-4 -4v8M622.5 795.5h8m-4 -4v8M622.5 794.5h8m-4 -4v8M623.5 794.5h8m-4 -4v8M623.5 794.5h8m-4 -4v8M623.5 794.5h8m-4 -4v8M624.5 794.5h8m-4 -4v8M624.5 794.5h8m-4 -4v8M624.5 794.5h8m-4 -4v8M625.5 793.5h8m-4 -4v8M625.5 793.5h8m-4 -4v8M626.5 793.5h8m-4 -4v8M626.5 793.5h8m-4 -4v8M626.5 793.5h8m-4 -4v8M627.5 793.5h8m-4 -4v8M627.5 793.5h8m-4 -4v8M627.5 793.5h8m-4 -4v8M628.5 792.5h8m-4 -4v8M628.5 792.5h8m-4 -4v8M628.5 792.5h8m-4 -4v8M629.5 792.5h8m-4 -4v8M629.5 792.5h8m-4 -4v8M629.5 792.5h8m-4 -4v8M630.5 792.5h8m-4 -4v8M630.5 791.5h8m-4 -4v8M631.5 791.5h8m-4 -4v8M631.5 791.5h8m-4 -4v8M632.5 791.5h8m-4 -4v8M632.5 791.5h8m-4 -4v8M633.5 790.5h8m-4 -4v8M633.5 790.5h8m-4 -4v8M634.5 790.5h8m-4 -4v8M634.5 790.5h8m-4 -4v8M635.5 789.5h8m-4 -4v8M635.5 789.5h8m-4 -4v8M636.5 789.5h8m-4 -4v8M636.5 789.5h8m-4 -4v8M637.5 788.5h8m-4 -4v8M637.5 788.5h8m-4 -4v8M638.5 788.5h8m-4 -4v8M638.5 788.5h8m-4 -4v8M639.5 788.5h8m-4 -4v8M639.5 787.5h8m-4 -4v8M640.5 787.5h8m-4 -4v8M640.5 787.5h8m-4 -4v8M641.5 787.5h8m-4 -4v8M641.5 786.5h8m-4 -4v8M642.5 786.5h8m-4 -4v8M642.5 786.5h8m-4 -4v8M643.5 786.5h8m-4 -4v8M643.5 785.5h8m-4 -4v8M644.5 785.5h8m-4 -4v8M644.5 785.5h8m-4 -4v8M645.5 784.5h8m-4 -4v8M645.5 784.5h8m-4 -4v8M646.5 784.5h8m-4 -4v8M646.5 784.5h8m-4 -4v8M647.5 783.5h8m-4 -4v8M647.5 783.5h8m-4 -4v8M648.5 783.5h8m-4 -4v8M648.5 783.5h8m-4 -4v8M649.5 782.5h8m-4 -4v8M649.5 782.5h8m-4 -4v8M650.5 782.5h8m-4 -4v8M650.5 782.5h8m-4 -4v8M651.5 781.5h8m-4 -4v8M651.5 781.5h8m-4 -4v8M652.5 781.5h8m-4 -4v8M652.5 780.5h8m-4 -4v8M653.5 780.5h8m-4 -4v8M653.5 780.5h8m-4 -4v8M654.5 780.5h8m-4 -4v8M654.5 779.5h8m-4 -4v8M655.5 779.5h8m-4 -4v8M655.5 779.5h8m-4 -4v8M656.5 778.5h8m-4 -4v8M656.5 778.5h8m-4 -4v8M657.5 778.5h8m-4 -4v8M657.5 778.5h8m-4 -4v8M658.5 777.5h8m-4 -4v8M658.5 777.5h8m-4 -4v8M659.5 777.5h8m-4 -4v8M659.5 776.5h8m-4 -4v8M660.5 776.5h8m-4 -4v8M660.5 776.5h8m-4 -4v8M661.5 775.5h8m-4 -4v8M661.5 775.5h8m-4 -4v8M662.5 775.5h8m-4 -4v8M662.5 774.5h8m-4 -4v8M663.5 774.5h8m-4 -4v8M663.5 774.5h8m-4 -4v8M664.5 773.5h8m-4 -4v8M664.5 773.5h8m-4 -4v8M665.5 773.5h8m-4 -4v8M665.5 772.5h8m-4 -4v8M666.5 772.5h8m-4 -4v8M666.5 772.5h8m-4 -4v8M667.5 771.5h8m-4 -4v8M667.5 771.5h8m-4 -4v8M668.5 771.5h8m-4 -4v8M668.5 770.5h8m-4 -4v8M669.5 770.5h8m-4 -4v8M669.5 769.5h8m-4 -4v8M670.5 769.5h8m-4 -4v8M670.5 769.5h8m-4 -4v8M671.5 768.5h8m-4 -4v8M671.5 768.5h8m-4 -4v8M672.5 768.5h8m-4 -4v8M672.5 767.5h8m-4 -4v8M673.5 767.5h8m-4 -4v8M673.5 766.5h8m-4 -4v8M674.5 766.5h8m-4 -4v8M674.5 766.5h8m-4 -4v8M675.5 765.5h8m-4 -4v8M675.5 765.5h8m-4 -4v8M676.5 764.5h8m-4 -4v8M677.5 764.5h8m-4 -4v8M677.5 764.5h8m-4 -4v8M678.5 763.5h8m-4 -4v8M678.5 763.5h8m-4 -4v8M679.5 762.5h8m-4 -4v8M679.5 762.5h8m-4 -4v8M680.5 762.5h8m-4 -4v8M680.5 761.5h8m-4 -4v8M681.5 761.5h8m-4 -4v8M681.5 761.5h8m-4 -4v8M681.5 760.5h8m-4 -4v8M682.5 760.5h8m-4 -4v8M682.5 760.5h8m-4 -4v8M682.5 759.5h8m-4 -4v8M683.5 759.5h8m-4 -4v8M683.5 759.5h8m-4 -4v8M683.5 759.5h8m-4 -4v8M684.5 758.5h8m-4 -4v8M684.5 758.5h8m-4 -4v8M684.5 758.5h8m-4 -4v8M685.5 757.5h8m-4 -4v8M685.5 757.5h8m-4 -4v8M685.5 757.5h8m-4 -4v8M686.5 756.5h8m-4 -4v8M686.5 756.5h8m-4 -4v8M687.5 756.5h8m-4 -4v8M687.5 756.5h8m-4 -4v8M687.5 755.5h8m-4 -4v8M688.5 755.5h8m-4 -4v8M688.5 755.5h8m-4 -4v8M688.5 754.5h8m-4 -4v8M689.5 754.5h8m-4 -4v8M689.5 754.5h8m-4 -4v8M689.5 753.5h8m-4 -4v8M690.5 753.5h8m-4 -4v8M690.5 753.5h8m-4 -4v8M691.5 752.5h8m-4 -4v8M691.5 752.5h8m-4 -4v8M691.5 752.5h8m-4 -4v8M692.5 751.5h8m-4 -4v8M692.5 751.5h8m-4 -4v8M692.5 751.5h8m-4 -4v8M693.5 750.5h8m-4 -4v8M693.5 750.5h8m-4 -4v8M694.5 750.5h8m-4 -4v8M694.5 749.5h8m-4 -4v8M694.5 749.5h8m-4 -4v8M695.5 748.5h8m-4 -4v8M695.5 748.5h8m-4 -4v8M695.5 748.5h8m-4 -4v8M696.5 747.5h8m-4 -4v8M696.5 747.5h8m-4 -4v8M697.5 747.5h8m-4 -4v8M697.5 746.5h8m-4 -4v8M697.5 746.5h8m-4 -4v8M698.5 745.5h8m-4 -4v8M698.5 745.5h8m-4 -4v8M699.5 745.5h8m-4 -4v8M699.5 744.5h8m-4 -4v8M699.5 744.5h8m-4 -4v8M700.5 743.5h8m-4 -4v8M700.5 743.5h8m-4 -4v8M700.5 743.5h8m-4 -4v8M701.5 742.5h8m-4 -4v8M701.5 742.5h8m-4 -4v8M702.5 742.5h8m-4 -4v8M702.5 741.5h8m-4 -4v8M702.5 741.5h8m-4 -4v8M703.5 740.5h8m-4 -4v8M703.5 740.5h8m-4 -4v8M704.5 739.5h8m-4 -4v8M704.5 739.5h8m-4 -4v8M704.5 739.5h8m-4 -4v8M705.5 738.5h8m-4 -4v8M705.5 738.5h8m-4 -4v8M706.5 737.5h8m-4 -4v8M706.5 737.5h8m-4 -4v8M706.5 737.5h8m-4 -4v8M707.5 736.5h8m-4 -4v8M707.5 736.5h8m-4 -4v8M708.5 735.5h8m-4 -4v8M708.5 735.5h8m-4 -4v8M709.5 734.5h8m-4 -4v8M709.5 734.5h8m-4 -4v8M709.5 733.5h8m-4 -4v8M710.5 733.5h8m-4 -4v8M710.5 733.5h8m-4 -4v8M711.5 732.5h8m-4 -4v8M711.5 732.5h8m-4 -4v8M712.5 731.5h8m-4 -4v8M712.5 731.5h8m-4 -4v8M712.5 730.5h8m-4 -4v8M713.5 730.5h8m-4 -4v8M713.5 729.5h8m-4 -4v8M714.5 729.5h8m-4 -4v8M714.5 729.5h8m-4 -4v8M715.5 728.5h8m-4 -4v8M715.5 728.5h8m-4 -4v8M715.5 727.5h8m-4 -4v8M716.5 727.5h8m-4 -4v8M716.5 726.5h8m-4 -4v8M717.5 726.5h8m-4 -4v8M717.5 725.5h8m-4 -4v8M718.5 725.5h8m-4 -4v8M718.5 724.5h8m-4 -4v8M719.5 724.5h8m-4 -4v8M719.5 723.5h8m-4 -4v8M720.5 723.5h8m-4 -4v8M720.5 722.5h8m-4 -4v8M720.5 722.5h8m-4 -4v8M721.5 721.5h8m-4 -4v8M721.5 721.5h8m-4 -4v8M722.5 720.5h8m-4 -4v8M722.5 720.5h8m-4 -4v8M723.5 719.5h8m-4 -4v8M723.5 719.5h8m-4 -4v8M724.5 718.5h8m-4 -4v8M724.5 718.5h8m-4 -4v8M725.5 717.5h8m-4 -4v8M725.5 717.5h8m-4 -4v8M726.5 716.5h8m-4 -4v8M726.5 716.5h8m-4 -4v8M727.5 715.5h8m-4 -4v8M727.5 714.5h8m-4 -4v8M728.5 714.5h8m-4 -4v8M728.5 713.5h8m-4 -4v8M729.5 713.5h8m-4 -4v8M729.5 712.5h8m-4 -4v8M730.5 712.5h8m-4 -4v8M730.5 711.5h8m-4 -4v8M731.5 711.5h8m-4 -4v8M731.5 710.5h8m-4 -4v8M732.5 709.5h8m-4 -4v8M732.5 709.5h8m-4 -4v8M733.5 708.5h8m-4 -4v8M733.5 708.5h8m-4 -4v8M734.5 707.5h8m-4 -4v8M734.5 706.5h8m-4 -4v8M735.5 706.5h8m-4 -4v8M735.5 705.5h8m-4 -4v8M736.5 705.5h8m-4 -4v8M737.5 704.5h8m-4 -4v8M737.5 703.5h8m-4 -4v8M738.5 703.5h8m-4 -4v8M738.5 702.5h8m-4 -4v8M739.5 701.5h8m-4 -4v8M739.5 701.5h8m-4 -4v8M740.5 700.5h8m-4 -4v8M741.5 700.5h8m-4 -4v8M741.5 699.5h8m-4 -4v8M742.5 698.5h8m-4 -4v8M742.5 698.5h8m-4 -4v8M743.5 697.5h8m-4 -4v8M743.5 696.5h8m-4 -4v8M744.5 696.5h8m-4 -4v8M745.5 695.5h8m-4 -4v8M745.5 694.5h8m-4 -4v8M746.5 694.5h8m-4 -4v8M746.5 693.5h8m-4 -4v8M747.5 692.5h8m-4 -4v8M748.5 692.5h8m-4 -4v8M748.5 691.5h8m-4 -4v8M749.5 690.5h8m-4 -4v8M749.5 690.5h8m-4 -4v8M750.5 690.5h8m-4 -4v8M750.5 689.5h8m-4 -4v8M750.5 689.5h8m-4 -4v8M751.5 688.5h8m-4 -4v8M751.5 688.5h8m-4 -4v8M751.5 688.5h8m-4 -4v8M752.5 687.5h8m-4 -4v8M752.5 687.5h8m-4 -4v8M752.5 687.5h8m-4 -4v8M753.5 686.5h8m-4 -4v8M753.5 686.5h8m-4 -4v8M753.5 686.5h8m-4 -4v8M754.5 685.5h8m-4 -4v8M754.5 685.5h8m-4 -4v8M754.5 684.5h8m-4 -4v8M755.5 684.5h8m-4 -4v8M755.5 684.5h8m-4 -4v8M755.5 683.5h8m-4 -4v8M756.5 683.5h8m-4 -4v8M756.5 683.5h8m-4 -4v8M756.5 682.5h8m-4 -4v8M757.5 682.5h8m-4 -4v8M757.5 681.5h8m-4 -4v8M758.5 681.5h8m-4 -4v8M758.5 681.5h8m-4 -4v8M758.5 680.5h8m-4 -4v8M759.5 680.5h8m-4 -4v8M759.5 679.5h8m-4 -4v8M759.5 679.5h8m-4 -4v8M760.5 679.5h8m-4 -4v8M760.5 678.5h8m-4 -4v8M760.5 678.5h8m-4 -4v8M761.5 677.5h8m-4 -4v8M761.5 677.5h8m-4 -4v8M762.5 677.5h8m-4 -4v8M762.5 676.5h8m-4 -4v8M762.5 676.5h8m-4 -4v8M763.5 675.5h8m-4 -4v8M763.5 675.5h8m-4 -4v8M764.5 674.5h8m-4 -4v8M764.5 674.5h8m-4 -4v8M764.5 674.5h8m-4 -4v8M765.5 673.5h8m-4 -4v8M765.5 673.5h8m-4 -4v8M766.5 672.5h8m-4 -4v8M766.5 672.5h8m-4 -4v8M766.5 671.5h8m-4 -4v8M767.5 671.5h8m-4 -4v8M767.5 671.5h8m-4 -4v8M768.5 670.5h8m-4 -4v8M768.5 670.5h8m-4 -4v8M768.5 669.5h8m-4 -4v8M769.5 669.5h8m-4 -4v8M769.5 668.5h8m-4 -4v8M770.5 668.5h8m-4 -4v8M770.5 667.5h8m-4 -4v8M771.5 667.5h8m-4 -4v8M771.5 666.5h8m-4 -4v8M771.5 666.5h8m-4 -4v8M772.5 665.5h8m-4 -4v8M772.5 665.5h8m-4 -4v8M773.5 665.5h8m-4 -4v8M773.5 664.5h8m-4 -4v8M774.5 664.5h8m-4 -4v8M774.5 663.5h8m-4 -4v8M775.5 663.5h8m-4 -4v8M775.5 662.5h8m-4 -4v8M776.5 662.5h8m-4 -4v8M776.5 661.5h8m-4 -4v8M777.5 661.5h8m-4 -4v8M777.5 660.5h8m-4 -4v8M777.5 660.5h8m-4 -4v8M778.5 659.5h8m-4 -4v8M778.5 659.5h8m-4 -4v8M779.5 658.5h8m-4 -4v8M779.5 658.5h8m-4 -4v8M780.5 657.5h8m-4 -4v8M780.5 657.5h8m-4 -4v8M781.5 656.5h8m-4 -4v8M782.5 655.5h8m-4 -4v8M782.5 655.5h8m-4 -4v8M783.5 654.5h8m-4 -4v8M783.5 654.5h8m-4 -4v8M784.5 653.5h8m-4 -4v8M784.5 653.5h8m-4 -4v8M785.5 652.5h8m-4 -4v8M785.5 652.5h8m-4 -4v8M786.5 651.5h8m-4 -4v8M786.5 651.5h8m-4 -4v8M787.5 650.5h8m-4 -4v8M788.5 649.5h8m-4 -4v8M788.5 649.5h8m-4 -4v8M789.5 648.5h8m-4 -4v8M789.5 648.5h8m-4 -4v8M790.5 647.5h8m-4 -4v8M791.5 646.5h8m-4 -4v8M791.5 646.5h8m-4 -4v8M792.5 645.5h8m-4 -4v8M792.5 645.5h8m-4 -4v8M793.5 644.5h8m-4 -4v8M794.5 643.5h8m-4 -4v8M794.5 643.5h8m-4 -4v8M795.5 642.5h8m-4 -4v8M796.5 641.5h8m-4 -4v8M796.5 641.5h8m-4 -4v8M797.5 640.5h8m-4 -4v8M798.5 639.5h8m-4 -4v8M798.5 639.5h8m-4 -4v8M799.5 638.5h8m-4 -4v8M800.5 637.5h8m-4 -4v8M800.5 636.5h8m-4 -4v8M801.5 636.5h8m-4 -4v8M802.5 635.5h8m-4 -4v8M803.5 634.5h8m-4 -4v8M803.5 633.5h8m-4 -4v8M804.5 633.5h8m-4 -4v8M805.5 632.5h8m-4 -4v8M806.5 631.5h8m-4 -4v8M807.5 630.5h8m-4 -4v8M807.5 629.5h8m-4 -4v8M808.5 628.5h8m-4 -4v8M809.5 628.5h8m-4 -4v8M810.5 627.5h8m-4 -4v8M811.5 626.5h8m-4 -4v8M812.5 625.5h8m-4 -4v8M813.5 624.5h8m-4 -4v8M814.5 623.5h8m-4 -4v8M815.5 622.5h8m-4 -4v8M816.5 621.5h8m-4 -4v8M817.5 620.5h8m-4 -4v8M818.5 619.5h8m-4 -4v8M819.5 618.5h8m-4 -4v8M820.5 616.5h8m-4 -4v8M821.5 615.5h8m-4 -4v8M822.5 614.5h8m-4 -4v8M823.5 613.5h8m-4 -4v8M824.5 612.5h8m-4 -4v8M825.5 611.5h8m-4 -4v8M827.5 609.5h8m-4 -4v8M828.5 608.5h8m-4 -4v8M829.5 607.5h8m-4 -4v8M830.5 605.5h8m-4 -4v8M832.5 604.5h8m-4 -4v8M833.5 602.5h8m-4 -4v8M835.5 601.5h8m-4 -4v8M836.5 599.5h8m-4 -4v8M838.5 598.5h8m-4 -4v8M839.5 596.5h8m-4 -4v8M841.5 595.5h8m-4 -4v8M843.5 593.5h8m-4 -4v8M844.5 591.5h8m-4 -4v8M846.5 589.5h8m-4 -4v8M848.5 587.5h8m-4 -4v8M850.5 585.5h8m-4 -4v8M852.5 583.5h8m-4 -4v8M855.5 581.5h8m-4 -4v8M857.5 578.5h8m-4 -4v8M860.5 576.5h8m-4 -4v8M862.5 573.5h8m-4 -4v8M865.5 571.5h8m-4 -4v8M869.5 568.5h8m-4 -4v8M872.5 565.5h8m-4 -4v8M876.5 561.5h8m-4 -4v8M880.5 559.5h8m-4 -4v8M885.5 553.5h8m-4 -4v8M890.5 546.5h8m-4 -4v8M897.5 539.5h8m-4 -4v8M905.5 529.5h8m-4 -4v8M915.5 520.5h8m-4 -4v8M930.5 501.5h8m-4 -4v8M961.5 471.5h8m-4 -4v8" stroke="#2a2aff" stroke-width="1" fill="none"/>
<path d="M965.35 571.52L556.55 812.03" stroke="#ff3535" stroke-width="1.05" stroke-dasharray="7.5 4.6 1.2 5.3" fill="none"/>
<path d="M553.30 462.00V815.00H1003.30" stroke="#555" stroke-width="1" fill="none"/>
<path d="M553.30 815.00v-4.2M628.30 815.00v-4.2M703.30 815.00v-4.2M778.30 815.00v-4.2M853.30 815.00v-4.2M928.30 815.00v-4.2M1003.30 815.00v-4.2M553.30 815.00h4.2M553.30 770.88h4.2M553.30 726.75h4.2M553.30 682.62h4.2M553.30 638.50h4.2M553.30 594.38h4.2M553.30 550.25h4.2M553.30 506.12h4.2M553.30 462.00h4.2" stroke="#555" stroke-width="1" fill="none"/>
<text x="553.30" y="831.00" text-anchor="middle">0</text>
<text x="628.30" y="831.00" text-anchor="middle">0.5</text>
<text x="703.30" y="831.00" text-anchor="middle">1</text>
<text x="778.30" y="831.00" text-anchor="middle">1.5</text>
<text x="853.30" y="831.00" text-anchor="middle">2</text>
<text x="928.30" y="831.00" text-anchor="middle">2.5</text>
<text x="1003.30" y="831.00" text-anchor="middle">3</text>
<text x="549.90" y="819.80" text-anchor="end">0</text>
<text x="549.90" y="775.67" text-anchor="end">0.5</text>
<text x="549.90" y="731.55" text-anchor="end">1</text>
<text x="549.90" y="687.42" text-anchor="end">1.5</text>
<text x="549.90" y="643.30" text-anchor="end">2</text>
<text x="549.90" y="599.17" text-anchor="end">2.5</text>
<text x="549.90" y="555.05" text-anchor="end">3</text>
<text x="549.90" y="510.93" text-anchor="end">3.5</text>
<text x="549.90" y="466.80" text-anchor="end">4</text>
<text x="777.20" y="845.90" text-anchor="middle">Quantiles of Rayleigh Distribution</text>
<text transform="translate(523.30 627.00) rotate(-90)" text-anchor="middle">Quantiles of significant wave height (m)</text>
<path d="M547.5 1252.5h8m-4 -4v8M547.5 1252.5h8m-4 -4v8M547.5 1252.5h8m-4 -4v8M548.5 1252.5h8m-4 -4v8M548.5 1251.5h8m-4 -4v8M549.5 1251.5h8m-4 -4v8M549.5 1251.5h8m-4 -4v8M549.5 1251.5h8m-4 -4v8M550.5 1251.5h8m-4 -4v8M550.5 1251.5h8m-4 -4v8M551.5 1251.5h8m-4 -4v8M551.5 1251.5h8m-4 -4v8M551.5 1251.5h8m-4 -4v8M552.5 1251.5h8m-4 -4v8M552.5 1251.5h8m-4 -4v8M553.5 1250.5h8m-4 -4v8M553.5 1250.5h8m-4 -4v8M554.5 1250.5h8m-4 -4v8M554.5 1250.5h8m-4 -4v8M554.5 1250.5h8m-4 -4v8M555.5 1250.5h8m-4 -4v8M555.5 1250.5h8m-4 -4v8M556.5 1250.5h8m-4 -4v8M556.5 1250.5h8m-4 -4v8M557.5 1249.5h8m-4 -4v8M557.5 1249.5h8m-4 -4v8M557.5 1249.5h8m-4 -4v8M558.5 1249.5h8m-4 -4v8M558.5 1249.5h8m-4 -4v8M559.5 1249.5h8m-4 -4v8M559.5 1249.5h8m-4 -4v8M559.5 1249.5h8m-4 -4v8M560.5 1248.5h8m-4 -4v8M560.5 1248.5h8m-4 -4v8M561.5 1248.5h8m-4 -4v8M561.5 1248.5h8m-4 -4v8M561.5 1248.5h8m-4 -4v8M562.5 1248.5h8m-4 -4v8M562.5 1247.5h8m-4 -4v8M563.5 1247.5h8m-4 -4v8M563.5 1247.5h8m-4 -4v8M563.5 1247.5h8m-4 -4v8M564.5 1247.5h8m-4 -4v8M564.5 1247.5h8m-4 -4v8M565.5 1247.5h8m-4 -4v8M565.5 1246.5h8m-4 -4v8M565.5 1246.5h8m-4 -4v8M566.5 1246.5h8m-4 -4v8M566.5 1246.5h8m-4 -4v8M567.5 1246.5h8m-4 -4v8M567.5 1245.5h8m-4 -4v8M567.5 1245.5h8m-4 -4v8M568.5 1245.5h8m-4 -4v8M568.5 1245.5h8m-4 -4v8M569.5 1245.5h8m-4 -4v8M569.5 1245.5h8m-4 -4v8M569.5 1244.5h8m-4 -4v8M570.5 1244.5h8m-4 -4v8M570.5 1244.5h8m-4 -4v8M571.5 1244.5h8m-4 -4v8M571.5 1243.5h8m-4 -4v8M571.5 1243.5h8m-4 -4v8M572.5 1243.5h8m-4 -4v8M572.5 1243.5h8m-4 -4v8M573.5 1243.5h8m-4 -4v8M573.5 1242.5h8m-4 -4v8M574.5 1242.5h8m-4 -4v8M574.5 1242.5h8m-4 -4v8M574.5 1242.5h8m-4 -4v8M575.5 1241.5h8m-4 -4v8M575.5 1241.5h8m-4 -4v8M576.5 1241.5h8m-4 -4v8M576.5 1241.5h8m-4 -4v8M576.5 1240.5h8m-4 -4v8M577.5 1240.5h8m-4 -4v8M577.5 1240.5h8m-4 -4v8M578.5 1240.5h8m-4 -4v8M578.5 1239.5h8m-4 -4v8M579.5 1239.5h8m-4 -4v8M579.5 1239.5h8m-4 -4v8M579.5 1238.5h8m-4 -4v8M580.5 1238.5h8m-4 -4v8M580.5 1238.5h8m-4 -4v8M581.5 1237.5h8m-4 -4v8M581.5 1237.5h8m-4 -4v8M582.5 1237.5h8m-4 -4v8M582.5 1236.5h8m-4 -4v8M582.5 1236.5h8m-4 -4v8M583.5 1236.5h8m-4 -4v8M583.5 1235.5h8m-4 -4v8M584.5 1235.5h8m-4 -4v8M584.5 1235.5h8m-4 -4v8M585.5 1234.5h8m-4 -4v8M585.5 1234.5h8m-4 -4v8M585.5 1234.5h8m-4 -4v8M586.5 1233.5h8m-4 -4v8M586.5 1233.5h8m-4 -4v8M587.5 1233.5h8m-4 -4v8M587.5 1232.5h8m-4 -4v8M588.5 1232.5h8m-4 -4v8M588.5 1232.5h8m-4 -4v8M589.5 1231.5h8m-4 -4v8M589.5 1231.5h8m-4 -4v8M590.5 1230.5h8m-4 -4v8M590.5 1230.5h8m-4 -4v8M590.5 1230.5h8m-4 -4v8M591.5 1229.5h8m-4 -4v8M591.5 1229.5h8m-4 -4v8M592.5 1228.5h8m-4 -4v8M592.5 1228.5h8m-4 -4v8M592.5 1228.5h8m-4 -4v8M593.5 1228.5h8m-4 -4v8M593.5 1227.5h8m-4 -4v8M594.5 1227.5h8m-4 -4v8M594.5 1227.5h8m-4 -4v8M594.5 1226.5h8m-4 -4v8M595.5 1226.5h8m-4 -4v8M595.5 1226.5h8m-4 -4v8M595.5 1225.5h8m-4 -4v8M596.5 1225.5h8m-4 -4v8M596.5 1225.5h8m-4 -4v8M596.5 1224.5h8m-4 -4v8M597.5 1224.5h8m-4 -4v8M597.5 1224.5h8m-4 -4v8M598.5 1223.5h8m-4 -4v8M598.5 1223.5h8m-4 -4v8M598.5 1223.5h8m-4 -4v8M599.5 1222.5h8m-4 -4v8M599.5 1222.5h8m-4 -4v8M599.5 1221.5h8m-4 -4v8M600.5 1221.5h8m-4 -4v8M600.5 1221.5h8m-4 -4v8M601.5 1220.5h8m-4 -4v8M601.5 1220.5h8m-4 -4v8M601.5 1220.5h8m-4 -4v8M602.5 1219.5h8m-4 -4v8M602.5 1219.5h8m-4 -4v8M602.5 1219.5h8m-4 -4v8M603.5 1218.5h8m-4 -4v8M603.5 1218.5h8m-4 -4v8M604.5 1217.5h8m-4 -4v8M604.5 1217.5h8m-4 -4v8M604.5 1217.5h8m-4 -4v8M605.5 1216.5h8m-4 -4v8M605.5 1216.5h8m-4 -4v8M606.5 1215.5h8m-4 -4v8M606.5 1215.5h8m-4 -4v8M606.5 1215.5h8m-4 -4v8M607.5 1214.5h8m-4 -4v8M607.5 1214.5h8m-4 -4v8M608.5 1213.5h8m-4 -4v8M608.5 1213.5h8m-4 -4v8M608.5 1213.5h8m-4 -4v8M609.5 1212.5h8m-4 -4v8M609.5 1212.5h8m-4 -4v8M610.5 1211.5h8m-4 -4v8M610.5 1211.5h8m-4 -4v8M611.5 1211.5h8m-4 -4v8M611.5 1210.5h8m-4 -4v8M611.5 1210.5h8m-4 -4v8M612.5 1209.5h8m-4 -4v8M612.5 1209.5h8m-4 -4v8M613.5 1208.5h8m-4 -4v8M613.5 1208.5h8m-4 -4v8M614.5 1208.5h8m-4 -4v8M614.5 1207.5h8m-4 -4v8M615.5 1207.5h8m-4 -4v8M615.5 1206.5h8m-4 -4v8M615.5 1206.5h8m-4 -4v8M616.5 1205.5h8m-4 -4v8M616.5 1205.5h8m-4 -4v8M617.5 1204.5h8m-4 -4v8M617.5 1204.5h8m-4 -4v8M618.5 1204.5h8m-4 -4v8M618.5 1203.5h8m-4 -4v8M619.5 1203.5h8m-4 -4v8M619.5 1202.5h8m-4 -4v8M620.5 1202.5h8m-4 -4v8M620.5 1201.5h8m-4 -4v8M621.5 1201.5h8m-4 -4v8M621.5 1200.5h8m-4 -4v8M622.5 1200.5h8m-4 -4v8M622.5 1199.5h8m-4 -4v8M622.5 1199.5h8m-4 -4v8M623.5 1199.5h8m-4 -4v8M623.5 1198.5h8m-4 -4v8M624.5 1198.5h8m-4 -4v8M624.5 1197.5h8m-4 -4v8M625.5 1197.5h8m-4 -4v8M625.5 1196.5h8m-4 -4v8M626.5 1196.5h8m-4 -4v8M627.5 1195.5h8m-4 -4v8M627.5 1195.5h8m-4 -4v8M628.5 1194.5h8m-4 -4v8M628.5 1194.5h8m-4 -4v8M628.5 1193.5h8m-4 -4v8M629.5 1193.5h8m-4 -4v8M629.5 1193.5h8m-4 -4v8M630.5 1192.5h8m-4 -4v8M630.5 1192.5h8m-4 -4v8M630.5 1192.5h8m-4 -4v8M631.5 1191.5h8m-4 -4v8M631.5 1191.5h8m-4 -4v8M631.5 1191.5h8m-4 -4v8M632.5 1190.5h8m-4 -4v8M632.5 1190.5h8m-4 -4v8M632.5 1190.5h8m-4 -4v8M633.5 1189.5h8m-4 -4v8M633.5 1189.5h8m-4 -4v8M634.5 1189.5h8m-4 -4v8M634.5 1188.5h8m-4 -4v8M634.5 1188.5h8m-4 -4v8M635.5 1188.5h8m-4 -4v8M635.5 1187.5h8m-4 -4v8M635.5 1187.5h8m-4 -4v8M636.5 1186.5h8m-4 -4v8M636.5 1186.5h8m-4 -4v8M637.5 1186.5h8m-4 -4v8M637.5 1185.5h8m-4 -4v8M637.5 1185.5h8m-4 -4v8M638.5 1185.5h8m-4 -4v8M638.5 1184.5h8m-4 -4v8M639.5 1184.5h8m-4 -4v8M639.5 1184.5h8m-4 -4v8M639.5 1183.5h8m-4 -4v8M640.5 1183.5h8m-4 -4v8M640.5 1182.5h8m-4 -4v8M641.5 1182.5h8m-4 -4v8M641.5 1182.5h8m-4 -4v8M641.5 1181.5h8m-4 -4v8M642.5 1181.5h8m-4 -4v8M642.5 1180.5h8m-4 -4v8M643.5 1180.5h8m-4 -4v8M643.5 1180.5h8m-4 -4v8M644.5 1179.5h8m-4 -4v8M644.5 1179.5h8m-4 -4v8M644.5 1178.5h8m-4 -4v8M645.5 1178.5h8m-4 -4v8M645.5 1178.5h8m-4 -4v8M646.5 1177.5h8m-4 -4v8M646.5 1177.5h8m-4 -4v8M647.5 1176.5h8m-4 -4v8M647.5 1176.5h8m-4 -4v8M648.5 1176.5h8m-4 -4v8M648.5 1175.5h8m-4 -4v8M649.5 1175.5h8m-4 -4v8M649.5 1174.5h8m-4 -4v8M649.5 1174.5h8m-4 -4v8M650.5 1174.5h8m-4 -4v8M650.5 1173.5h8m-4 -4v8M651.5 1173.5h8m-4 -4v8M651.5 1172.5h8m-4 -4v8M652.5 1172.5h8m-4 -4v8M652.5 1171.5h8m-4 -4v8M653.5 1171.5h8m-4 -4v8M653.5 1171.5h8m-4 -4v8M654.5 1170.5h8m-4 -4v8M654.5 1170.5h8m-4 -4v8M655.5 1169.5h8m-4 -4v8M655.5 1169.5h8m-4 -4v8M656.5 1168.5h8m-4 -4v8M656.5 1168.5h8m-4 -4v8M657.5 1167.5h8m-4 -4v8M657.5 1167.5h8m-4 -4v8M658.5 1166.5h8m-4 -4v8M658.5 1166.5h8m-4 -4v8M659.5 1166.5h8m-4 -4v8M660.5 1165.5h8m-4 -4v8M660.5 1165.5h8m-4 -4v8M661.5 1164.5h8m-4 -4v8M661.5 1164.5h8m-4 -4v8M662.5 1163.5h8m-4 -4v8M662.5 1163.5h8m-4 -4v8M663.5 1162.5h8m-4 -4v8M663.5 1162.5h8m-4 -4v8M664.5 1161.5h8m-4 -4v8M665.5 1161.5h8m-4 -4v8M665.5 1160.5h8m-4 -4v8M666.5 1160.5h8m-4 -4v8M666.5 1159.5h8m-4 -4v8M667.5 1159.5h8m-4 -4v8M668.5 1158.5h8m-4 -4v8M668.5 1157.5h8m-4 -4v8M669.5 1157.5h8m-4 -4v8M669.5 1156.5h8m-4 -4v8M670.5 1156.5h8m-4 -4v8M671.5 1155.5h8m-4 -4v8M671.5 1155.5h8m-4 -4v8M672.5 1154.5h8m-4 -4v8M673.5 1154.5h8m-4 -4v8M673.5 1153.5h8m-4 -4v8M674.5 1152.5h8m-4 -4v8M675.5 1152.5h8m-4 -4v8M675.5 1151.5h8m-4 -4v8M676.5 1151.5h8m-4 -4v8M677.5 1150.5h8m-4 -4v8M677.5 1150.5h8m-4 -4v8M677.5 1150.5h8m-4 -4v8M678.5 1149.5h8m-4 -4v8M678.5 1149.5h8m-4 -4v8M678.5 1149.5h8m-4 -4v8M679.5 1148.5h8m-4 -4v8M679.5 1148.5h8m-4 -4v8M680.5 1148.5h8m-4 -4v8M680.5 1147.5h8m-4 -4v8M680.5 1147.5h8m-4 -4v8M681.5 1147.5h8m-4 -4v8M681.5 1146.5h8m-4 -4v8M681.5 1146.5h8m-4 -4v8M682.5 1146.5h8m-4 -4v8M682.5 1145.5h8m-4 -4v8M683.5 1145.5h8m-4 -4v8M683.5 1145.5h8m-4 -4v8M683.5 1145.5h8m-4 -4v8M684.5 1144.5h8m-4 -4v8M684.5 1144.5h8m-4 -4v8M684.5 1144.5h8m-4 -4v8M685.5 1143.5h8m-4 -4v8M685.5 1143.5h8m-4 -4v8M686.5 1143.5h8m-4 -4v8M686.5 1142.5h8m-4 -4v8M686.5 1142.5h8m-4 -4v8M687.5 1141.5h8m-4 -4v8M687.5 1141.5h8m-4 -4v8M688.5 1141.5h8m-4 -4v8M688.5 1140.5h8m-4 -4v8M689.5 1140.5h8m-4 -4v8M689.5 1140.5h8m-4 -4v8M689.5 1139.5h8m-4 -4v8M690.5 1139.5h8m-4 -4v8M690.5 1139.5h8m-4 -4v8M691.5 1138.5h8m-4 -4v8M691.5 1138.5h8m-4 -4v8M692.5 1138.5h8m-4 -4v8M692.5 1137.5h8m-4 -4v8M692.5 1137.5h8m-4 -4v8M693.5 1136.5h8m-4 -4v8M693.5 1136.5h8m-4 -4v8M694.5 1136.5h8m-4 -4v8M694.5 1135.5h8m-4 -4v8M695.5 1135.5h8m-4 -4v8M695.5 1135.5h8m-4 -4v8M696.5 1134.5h8m-4 -4v8M696.5 1134.5h8m-4 -4v8M697.5 1133.5h8m-4 -4v8M697.5 1133.5h8m-4 -4v8M697.5 1133.5h8m-4 -4v8M698.5 1132.5h8m-4 -4v8M698.5 1132.5h8m-4 -4v8M699.5 1131.5h8m-4 -4v8M699.5 1131.5h8m-4 -4v8M700.5 1131.5h8m-4 -4v8M700.5 1130.5h8m-4 -4v8M701.5 1130.5h8m-4 -4v8M701.5 1129.5h8m-4 -4v8M702.5 1129.5h8m-4 -4v8M703.5 1128.5h8m-4 -4v8M703.5 1128.5h8m-4 -4v8M704.5 1128.5h8m-4 -4v8M704.5 1127.5h8m-4 -4v8M705.5 1127.5h8m-4 -4v8M705.5 1126.5h8m-4 -4v8M706.5 1126.5h8m-4 -4v8M706.5 1125.5h8m-4 -4v8M707.5 1125.5h8m-4 -4v8M707.5 1124.5h8m-4 -4v8M708.5 1124.5h8m-4 -4v8M709.5 1123.5h8m-4 -4v8M709.5 1123.5h8m-4 -4v8M710.5 1123.5h8m-4 -4v8M710.5 1122.5h8m-4 -4v8M711.5 1122.5h8m-4 -4v8M712.5 1121.5h8m-4 -4v8M712.5 1121.5h8m-4 -4v8M713.5 1120.5h8m-4 -4v8M713.5 1120.5h8m-4 -4v8M714.5 1119.5h8m-4 -4v8M715.5 1119.5h8m-4 -4v8M715.5 1118.5h8m-4 -4v8M716.5 1118.5h8m-4 -4v8M717.5 1117.5h8m-4 -4v8M717.5 1116.5h8m-4 -4v8M718.5 1116.5h8m-4 -4v8M719.5 1115.5h8m-4 -4v8M719.5 1115.5h8m-4 -4v8M720.5 1114.5h8m-4 -4v8M721.5 1114.5h8m-4 -4v8M721.5 1113.5h8m-4 -4v8M722.5 1113.5h8m-4 -4v8M723.5 1112.5h8m-4 -4v8M724.5 1111.5h8m-4 -4v8M724.5 1111.5h8m-4 -4v8M725.5 1110.5h8m-4 -4v8M726.5 1110.5h8m-4 -4v8M727.5 1109.5h8m-4 -4v8M727.5 1108.5h8m-4 -4v8M728.5 1108.5h8m-4 -4v8M729.5 1107.5h8m-4 -4v8M730.5 1106.5h8m-4 -4v8M731.5 1106.5h8m-4 -4v8M731.5 1105.5h8m-4 -4v8M732.5 1105.5h8m-4 -4v8M733.5 1104.5h8m-4 -4v8M734.5 1103.5h8m-4 -4v8M735.5 1102.5h8m-4 -4v8M736.5 1102.5h8m-4 -4v8M737.5 1101.5h8m-4 -4v8M738.5 1100.5h8m-4 -4v8M739.5 1100.5h8m-4 -4v8M740.5 1099.5h8m-4 -4v8M741.5 1098.5h8m-4 -4v8M742.5 1097.5h8m-4 -4v8M743.5 1097.5h8m-4 -4v8M744.5 1096.5h8m-4 -4v8M745.5 1095.5h8m-4 -4v8M746.5 1094.5h8m-4 -4v8M747.5 1093.5h8m-4 -4v8M748.5 1093.5h8m-4 -4v8M749.5 1092.5h8m-4 -4v8M750.5 1091.5h8m-4 -4v8M751.5 1090.5h8m-4 -4v8M753.5 1089.5h8m-4 -4v8M754.5 1088.5h8m-4 -4v8M755.5 1087.5h8m-4 -4v8M756.5 1086.5h8m-4 -4v8M758.5 1085.5h8m-4 -4v8M759.5 1084.5h8m-4 -4v8M760.5 1083.5h8m-4 -4v8M762.5 1082.5h8m-4 -4v8M763.5 1081.5h8m-4 -4v8M765.5 1080.5h8m-4 -4v8M766.5 1079.5h8m-4 -4v8M768.5 1078.5h8m-4 -4v8M770.5 1077.5h8m-4 -4v8M771.5 1075.5h8m-4 -4v8M773.5 1074.5h8m-4 -4v8M775.5 1073.5h8m-4 -4v8M777.5 1072.5h8m-4 -4v8M778.5 1070.5h8m-4 -4v8M780.5 1069.5h8m-4 -4v8M782.5 1068.5h8m-4 -4v8M785.5 1066.5h8m-4 -4v8M787.5 1065.5h8m-4 -4v8M789.5 1063.5h8m-4 -4v8M791.5 1062.5h8m-4 -4v8M794.5 1060.5h8m-4 -4v8M796.5 1058.5h8m-4 -4v8M799.5 1056.5h8m-4 -4v8M802.5 1054.5h8m-4 -4v8M805.5 1052.5h8m-4 -4v8M808.5 1050.5h8m-4 -4v8M812.5 1048.5h8m-4 -4v8M815.5 1046.5h8m-4 -4v8M819.5 1044.5h8m-4 -4v8M824.5 1041.5h8m-4 -4v8M828.5 1038.5h8m-4 -4v8M833.5 1035.5h8m-4 -4v8M839.5 1032.5h8m-4 -4v8M845.5 1029.5h8m-4 -4v8M852.5 1025.5h8m-4 -4v8M861.5 1019.5h8m-4 -4v8M871.5 1013.5h8m-4 -4v8M883.5 1005.5h8m-4 -4v8M900.5 996.5h8m-4 -4v8M924.5 979.5h8m-4 -4v8M976.5 951.5h8m-4 -4v8" stroke="#2a2aff" stroke-width="1" fill="none"/>
<path d="M980.61 920.75L551.04 1257.09" stroke="#ff3535" stroke-width="1.05" stroke-dasharray="7.5 4.6 1.2 5.3" fill="none"/>
<path d="M550.90 905.30V1257.90H1001.25" stroke="#555" stroke-width="1" fill="none"/>
<path d="M550.90 1257.90v-4.2M600.94 1257.90v-4.2M650.98 1257.90v-4.2M701.02 1257.90v-4.2M751.06 1257.90v-4.2M801.09 1257.90v-4.2M851.13 1257.90v-4.2M901.17 1257.90v-4.2M951.21 1257.90v-4.2M1001.25 1257.90v-4.2M550.90 1257.90h4.2M550.90 1218.72h4.2M550.90 1179.54h4.2M550.90 1140.37h4.2M550.90 1101.19h4.2M550.90 1062.01h4.2M550.90 1022.83h4.2M550.90 983.66h4.2M550.90 944.48h4.2M550.90 905.30h4.2" stroke="#555" stroke-width="1" fill="none"/>
<text x="550.90" y="1273.90" text-anchor="middle">0</text>
<text x="600.94" y="1273.90" text-anchor="middle">0.5</text>
<text x="650.98" y="1273.90" text-anchor="middle">1</text>
<text x="701.02" y="1273.90" text-anchor="middle">1.5</text>
<text x="751.06" y="1273.90" text-anchor="middle">2</text>
<text x="801.09" y="1273.90" text-anchor="middle">2.5</text>
<text x="851.13" y="1273.90" text-anchor="middle">3</text>
<text x="901.17" y="1273.90" text-anchor="middle">3.5</text>
<text x="951.21" y="1273.90" text-anchor="middle">4</text>
<text x="1001.25" y="1273.90" text-anchor="middle">4.5</text>
<text x="547.50" y="1262.70" text-anchor="end">0</text>
<text x="547.50" y="1223.52" text-anchor="end">0.5</text>
<text x="547.50" y="1184.34" text-anchor="end">1</text>
<text x="547.50" y="1145.17" text-anchor="end">1.5</text>
<text x="547.50" y="1105.99" text-anchor="end">2</text>
<text x="547.50" y="1066.81" text-anchor="end">2.5</text>
<text x="547.50" y="1027.63" text-anchor="end">3</text>
<text x="547.50" y="988.46" text-anchor="end">3.5</text>
<text x="547.50" y="949.28" text-anchor="end">4</text>
<text x="547.50" y="910.10" text-anchor="end">4.5</text>
<text x="775.00" y="1288.60" text-anchor="middle">Quantiles of Weibull Distribution</text>
<text transform="translate(521.20 1070.50) rotate(-90)" text-anchor="middle">Quantiles of significant wave height (m)</text>
<text x="255.80" y="438.30" text-anchor="middle" font-family="&apos;Liberation Serif&apos;, &apos;Times New Roman&apos;, serif" font-size="26">(<tspan font-weight="bold">a</tspan>)</text>
<text x="759.00" y="438.30" text-anchor="middle" font-family="&apos;Liberation Serif&apos;, &apos;Times New Roman&apos;, serif" font-size="26">(<tspan font-weight="bold">b</tspan>)</text>
<text x="255.40" y="879.30" text-anchor="middle" font-family="&apos;Liberation Serif&apos;, &apos;Times New Roman&apos;, serif" font-size="26">(<tspan font-weight="bold">c</tspan>)</text>
<text x="759.00" y="880.00" text-anchor="middle" font-family="&apos;Liberation Serif&apos;, &apos;Times New Roman&apos;, serif" font-size="26">(<tspan font-weight="bold">d</tspan>)</text>
<text x="253.00" y="1323.50" text-anchor="middle" font-family="&apos;Liberation Serif&apos;, &apos;Times New Roman&apos;, serif" font-size="26">(<tspan font-weight="bold">e</tspan>)</text>
<text x="759.00" y="1323.50" text-anchor="middle" font-family="&apos;Liberation Serif&apos;, &apos;Times New Roman&apos;, serif" font-size="26">(<tspan font-weight="bold">f</tspan>)</text>
</svg>
</body></html>
